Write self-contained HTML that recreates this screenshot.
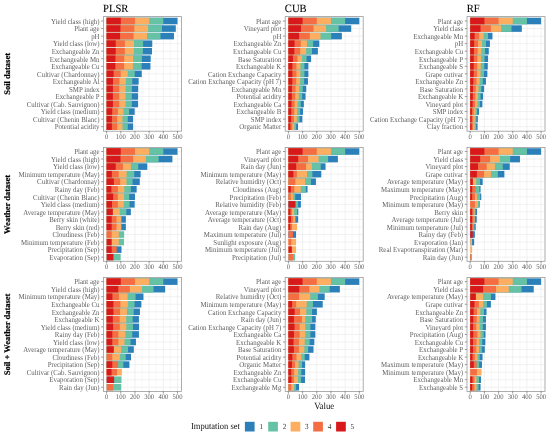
<!DOCTYPE html>
<html><head><meta charset="utf-8"><style>
html,body{margin:0;padding:0;background:#fff;width:550px;height:435px;overflow:hidden}
svg{display:block;filter:blur(0.2px)}
text{font-family:"Liberation Serif",serif;text-rendering:geometricPrecision}
.ax{font-size:6.88px;fill:#5e5e5e}
.tk{font-size:6.6px;fill:#5e5e5e}
.ti{font-size:10.6px;fill:#000;stroke:#000;stroke-width:0.08px}
.rl{font-size:8.5px;font-weight:bold;fill:#000;stroke:#000;stroke-width:0.2px}
.vl{font-size:8.8px;fill:#111}
.lg{font-size:8.5px;fill:#111}
.lk{font-size:7.2px;fill:#333}
</style></head><body>
<svg width="550" height="435" viewBox="0 0 550 435">
<rect width="550" height="435" fill="#fff"/>
<line x1="113.69" y1="16.6" x2="113.69" y2="131.2" stroke="#ebebeb" stroke-width="0.35"/>
<line x1="127.87" y1="16.6" x2="127.87" y2="131.2" stroke="#ebebeb" stroke-width="0.35"/>
<line x1="142.05" y1="16.6" x2="142.05" y2="131.2" stroke="#ebebeb" stroke-width="0.35"/>
<line x1="156.23" y1="16.6" x2="156.23" y2="131.2" stroke="#ebebeb" stroke-width="0.35"/>
<line x1="170.41" y1="16.6" x2="170.41" y2="131.2" stroke="#ebebeb" stroke-width="0.35"/>
<line x1="106.6" y1="16.6" x2="106.6" y2="131.2" stroke="#ebebeb" stroke-width="0.7"/>
<line x1="120.78" y1="16.6" x2="120.78" y2="131.2" stroke="#ebebeb" stroke-width="0.7"/>
<line x1="134.96" y1="16.6" x2="134.96" y2="131.2" stroke="#ebebeb" stroke-width="0.7"/>
<line x1="149.14" y1="16.6" x2="149.14" y2="131.2" stroke="#ebebeb" stroke-width="0.7"/>
<line x1="163.32" y1="16.6" x2="163.32" y2="131.2" stroke="#ebebeb" stroke-width="0.7"/>
<line x1="177.5" y1="16.6" x2="177.5" y2="131.2" stroke="#ebebeb" stroke-width="0.7"/>
<line x1="103.05" y1="21.03" x2="181.06" y2="21.03" stroke="#ebebeb" stroke-width="0.7"/>
<line x1="103.05" y1="28.57" x2="181.06" y2="28.57" stroke="#ebebeb" stroke-width="0.7"/>
<line x1="103.05" y1="36.12" x2="181.06" y2="36.12" stroke="#ebebeb" stroke-width="0.7"/>
<line x1="103.05" y1="43.66" x2="181.06" y2="43.66" stroke="#ebebeb" stroke-width="0.7"/>
<line x1="103.05" y1="51.21" x2="181.06" y2="51.21" stroke="#ebebeb" stroke-width="0.7"/>
<line x1="103.05" y1="58.75" x2="181.06" y2="58.75" stroke="#ebebeb" stroke-width="0.7"/>
<line x1="103.05" y1="66.3" x2="181.06" y2="66.3" stroke="#ebebeb" stroke-width="0.7"/>
<line x1="103.05" y1="73.84" x2="181.06" y2="73.84" stroke="#ebebeb" stroke-width="0.7"/>
<line x1="103.05" y1="81.39" x2="181.06" y2="81.39" stroke="#ebebeb" stroke-width="0.7"/>
<line x1="103.05" y1="88.93" x2="181.06" y2="88.93" stroke="#ebebeb" stroke-width="0.7"/>
<line x1="103.05" y1="96.48" x2="181.06" y2="96.48" stroke="#ebebeb" stroke-width="0.7"/>
<line x1="103.05" y1="104.02" x2="181.06" y2="104.02" stroke="#ebebeb" stroke-width="0.7"/>
<line x1="103.05" y1="111.57" x2="181.06" y2="111.57" stroke="#ebebeb" stroke-width="0.7"/>
<line x1="103.05" y1="119.11" x2="181.06" y2="119.11" stroke="#ebebeb" stroke-width="0.7"/>
<line x1="103.05" y1="126.66" x2="181.06" y2="126.66" stroke="#ebebeb" stroke-width="0.7"/>
<rect x="106.6" y="17.74" width="70.9" height="6.56" fill="#2c80ba"/>
<rect x="106.6" y="17.74" width="56.72" height="6.56" fill="#66c2a5"/>
<rect x="106.6" y="17.74" width="42.54" height="6.56" fill="#fdae61"/>
<rect x="106.6" y="17.74" width="28.36" height="6.56" fill="#f46d43"/>
<rect x="106.6" y="17.74" width="14.18" height="6.56" fill="#d7191c"/>
<line x1="101.2" y1="21.03" x2="103.4" y2="21.03" stroke="#555" stroke-width="0.6"/>
<text transform="translate(99.55,23.78) scale(1,1.12)" text-anchor="end" class="ax">Yield class (high)</text>
<rect x="106.6" y="25.29" width="69.2" height="6.56" fill="#2c80ba"/>
<rect x="106.6" y="25.29" width="55.36" height="6.56" fill="#66c2a5"/>
<rect x="106.6" y="25.29" width="41.52" height="6.56" fill="#fdae61"/>
<rect x="106.6" y="25.29" width="27.68" height="6.56" fill="#f46d43"/>
<rect x="106.6" y="25.29" width="13.84" height="6.56" fill="#d7191c"/>
<line x1="101.2" y1="28.57" x2="103.4" y2="28.57" stroke="#555" stroke-width="0.6"/>
<text transform="translate(99.55,31.32) scale(1,1.12)" text-anchor="end" class="ax">Plant age</text>
<rect x="106.6" y="32.83" width="67.36" height="6.56" fill="#2c80ba"/>
<rect x="106.6" y="32.83" width="53.88" height="6.56" fill="#66c2a5"/>
<rect x="106.6" y="32.83" width="40.41" height="6.56" fill="#fdae61"/>
<rect x="106.6" y="32.83" width="26.94" height="6.56" fill="#f46d43"/>
<rect x="106.6" y="32.83" width="13.47" height="6.56" fill="#d7191c"/>
<line x1="101.2" y1="36.12" x2="103.4" y2="36.12" stroke="#555" stroke-width="0.6"/>
<text transform="translate(99.55,38.87) scale(1,1.12)" text-anchor="end" class="ax">pH</text>
<rect x="106.6" y="40.38" width="45.66" height="6.56" fill="#2c80ba"/>
<rect x="106.6" y="40.38" width="36.53" height="6.56" fill="#66c2a5"/>
<rect x="106.6" y="40.38" width="27.4" height="6.56" fill="#fdae61"/>
<rect x="106.6" y="40.38" width="18.26" height="6.56" fill="#f46d43"/>
<rect x="106.6" y="40.38" width="9.13" height="6.56" fill="#d7191c"/>
<line x1="101.2" y1="43.66" x2="103.4" y2="43.66" stroke="#555" stroke-width="0.6"/>
<text transform="translate(99.55,46.41) scale(1,1.12)" text-anchor="end" class="ax">Yield class (low)</text>
<rect x="106.6" y="47.92" width="45.38" height="6.56" fill="#2c80ba"/>
<rect x="106.6" y="47.92" width="36.3" height="6.56" fill="#66c2a5"/>
<rect x="106.6" y="47.92" width="27.23" height="6.56" fill="#fdae61"/>
<rect x="106.6" y="47.92" width="18.15" height="6.56" fill="#f46d43"/>
<rect x="106.6" y="47.92" width="9.08" height="6.56" fill="#d7191c"/>
<line x1="101.2" y1="51.21" x2="103.4" y2="51.21" stroke="#555" stroke-width="0.6"/>
<text transform="translate(99.55,53.96) scale(1,1.12)" text-anchor="end" class="ax">Exchangeable Zn</text>
<rect x="106.6" y="55.47" width="44.1" height="6.56" fill="#2c80ba"/>
<rect x="106.6" y="55.47" width="35.28" height="6.56" fill="#66c2a5"/>
<rect x="106.6" y="55.47" width="26.46" height="6.56" fill="#fdae61"/>
<rect x="106.6" y="55.47" width="17.64" height="6.56" fill="#f46d43"/>
<rect x="106.6" y="55.47" width="8.82" height="6.56" fill="#d7191c"/>
<line x1="101.2" y1="58.75" x2="103.4" y2="58.75" stroke="#555" stroke-width="0.6"/>
<text transform="translate(99.55,61.5) scale(1,1.12)" text-anchor="end" class="ax">Exchangeable Mn</text>
<rect x="106.6" y="63.01" width="43.82" height="6.56" fill="#2c80ba"/>
<rect x="106.6" y="63.01" width="35.05" height="6.56" fill="#66c2a5"/>
<rect x="106.6" y="63.01" width="26.29" height="6.56" fill="#fdae61"/>
<rect x="106.6" y="63.01" width="17.53" height="6.56" fill="#f46d43"/>
<rect x="106.6" y="63.01" width="8.76" height="6.56" fill="#d7191c"/>
<line x1="101.2" y1="66.3" x2="103.4" y2="66.3" stroke="#555" stroke-width="0.6"/>
<text transform="translate(99.55,69.05) scale(1,1.12)" text-anchor="end" class="ax">Exchangeable Cu</text>
<rect x="106.6" y="70.56" width="35.17" height="6.56" fill="#2c80ba"/>
<rect x="106.6" y="70.56" width="28.13" height="6.56" fill="#66c2a5"/>
<rect x="106.6" y="70.56" width="21.1" height="6.56" fill="#fdae61"/>
<rect x="106.6" y="70.56" width="14.07" height="6.56" fill="#f46d43"/>
<rect x="106.6" y="70.56" width="7.03" height="6.56" fill="#d7191c"/>
<line x1="101.2" y1="73.84" x2="103.4" y2="73.84" stroke="#555" stroke-width="0.6"/>
<text transform="translate(99.55,76.59) scale(1,1.12)" text-anchor="end" class="ax">Cultivar (Chardonnay)</text>
<rect x="106.6" y="78.1" width="32.05" height="6.56" fill="#2c80ba"/>
<rect x="106.6" y="78.1" width="25.64" height="6.56" fill="#66c2a5"/>
<rect x="106.6" y="78.1" width="19.23" height="6.56" fill="#fdae61"/>
<rect x="106.6" y="78.1" width="12.82" height="6.56" fill="#f46d43"/>
<rect x="106.6" y="78.1" width="6.41" height="6.56" fill="#d7191c"/>
<line x1="101.2" y1="81.39" x2="103.4" y2="81.39" stroke="#555" stroke-width="0.6"/>
<text transform="translate(99.55,84.14) scale(1,1.12)" text-anchor="end" class="ax">Exchangeable Al</text>
<rect x="106.6" y="85.65" width="31.62" height="6.56" fill="#2c80ba"/>
<rect x="106.6" y="85.65" width="25.3" height="6.56" fill="#66c2a5"/>
<rect x="106.6" y="85.65" width="18.97" height="6.56" fill="#fdae61"/>
<rect x="106.6" y="85.65" width="12.65" height="6.56" fill="#f46d43"/>
<rect x="106.6" y="85.65" width="6.32" height="6.56" fill="#d7191c"/>
<line x1="101.2" y1="88.93" x2="103.4" y2="88.93" stroke="#555" stroke-width="0.6"/>
<text transform="translate(99.55,91.68) scale(1,1.12)" text-anchor="end" class="ax">SMP index</text>
<rect x="106.6" y="93.19" width="31.48" height="6.56" fill="#2c80ba"/>
<rect x="106.6" y="93.19" width="25.18" height="6.56" fill="#66c2a5"/>
<rect x="106.6" y="93.19" width="18.89" height="6.56" fill="#fdae61"/>
<rect x="106.6" y="93.19" width="12.59" height="6.56" fill="#f46d43"/>
<rect x="106.6" y="93.19" width="6.3" height="6.56" fill="#d7191c"/>
<line x1="101.2" y1="96.48" x2="103.4" y2="96.48" stroke="#555" stroke-width="0.6"/>
<text transform="translate(99.55,99.23) scale(1,1.12)" text-anchor="end" class="ax">Exchangeable P</text>
<rect x="106.6" y="100.74" width="31.48" height="6.56" fill="#2c80ba"/>
<rect x="106.6" y="100.74" width="25.18" height="6.56" fill="#66c2a5"/>
<rect x="106.6" y="100.74" width="18.89" height="6.56" fill="#fdae61"/>
<rect x="106.6" y="100.74" width="12.59" height="6.56" fill="#f46d43"/>
<rect x="106.6" y="100.74" width="6.3" height="6.56" fill="#d7191c"/>
<line x1="101.2" y1="104.02" x2="103.4" y2="104.02" stroke="#555" stroke-width="0.6"/>
<text transform="translate(99.55,106.77) scale(1,1.12)" text-anchor="end" class="ax">Cultivar (Cab. Sauvignon)</text>
<rect x="106.6" y="108.28" width="28.08" height="6.56" fill="#2c80ba"/>
<rect x="106.6" y="108.28" width="22.46" height="6.56" fill="#66c2a5"/>
<rect x="106.6" y="108.28" width="16.85" height="6.56" fill="#fdae61"/>
<rect x="106.6" y="108.28" width="11.23" height="6.56" fill="#f46d43"/>
<rect x="106.6" y="108.28" width="5.62" height="6.56" fill="#d7191c"/>
<line x1="101.2" y1="111.57" x2="103.4" y2="111.57" stroke="#555" stroke-width="0.6"/>
<text transform="translate(99.55,114.32) scale(1,1.12)" text-anchor="end" class="ax">Yield class (medium)</text>
<rect x="106.6" y="115.83" width="26.52" height="6.56" fill="#2c80ba"/>
<rect x="106.6" y="115.83" width="21.21" height="6.56" fill="#66c2a5"/>
<rect x="106.6" y="115.83" width="15.91" height="6.56" fill="#fdae61"/>
<rect x="106.6" y="115.83" width="10.61" height="6.56" fill="#f46d43"/>
<rect x="106.6" y="115.83" width="5.3" height="6.56" fill="#d7191c"/>
<line x1="101.2" y1="119.11" x2="103.4" y2="119.11" stroke="#555" stroke-width="0.6"/>
<text transform="translate(99.55,121.86) scale(1,1.12)" text-anchor="end" class="ax">Cultivar (Chenin Blanc)</text>
<rect x="106.6" y="123.37" width="26.52" height="6.56" fill="#2c80ba"/>
<rect x="106.6" y="123.37" width="21.21" height="6.56" fill="#66c2a5"/>
<rect x="106.6" y="123.37" width="15.91" height="6.56" fill="#fdae61"/>
<rect x="106.6" y="123.37" width="10.61" height="6.56" fill="#f46d43"/>
<rect x="106.6" y="123.37" width="5.3" height="6.56" fill="#d7191c"/>
<line x1="101.2" y1="126.66" x2="103.4" y2="126.66" stroke="#555" stroke-width="0.6"/>
<text transform="translate(99.55,129.41) scale(1,1.12)" text-anchor="end" class="ax">Potential acidity</text>
<rect x="103.4" y="16.6" width="78" height="114.6" fill="none" stroke="#9a9a9a" stroke-width="0.8"/>
<line x1="106.6" y1="131.2" x2="106.6" y2="133.4" stroke="#555" stroke-width="0.6"/>
<text transform="translate(106.6,138.5) scale(1,1.08)" text-anchor="middle" class="tk">0</text>
<line x1="120.78" y1="131.2" x2="120.78" y2="133.4" stroke="#555" stroke-width="0.6"/>
<text transform="translate(120.78,138.5) scale(1,1.08)" text-anchor="middle" class="tk">100</text>
<line x1="134.96" y1="131.2" x2="134.96" y2="133.4" stroke="#555" stroke-width="0.6"/>
<text transform="translate(134.96,138.5) scale(1,1.08)" text-anchor="middle" class="tk">200</text>
<line x1="149.14" y1="131.2" x2="149.14" y2="133.4" stroke="#555" stroke-width="0.6"/>
<text transform="translate(149.14,138.5) scale(1,1.08)" text-anchor="middle" class="tk">300</text>
<line x1="163.32" y1="131.2" x2="163.32" y2="133.4" stroke="#555" stroke-width="0.6"/>
<text transform="translate(163.32,138.5) scale(1,1.08)" text-anchor="middle" class="tk">400</text>
<line x1="177.5" y1="131.2" x2="177.5" y2="133.4" stroke="#555" stroke-width="0.6"/>
<text transform="translate(177.5,138.5) scale(1,1.08)" text-anchor="middle" class="tk">500</text>
<line x1="295.49" y1="16.6" x2="295.49" y2="131.2" stroke="#ebebeb" stroke-width="0.35"/>
<line x1="309.67" y1="16.6" x2="309.67" y2="131.2" stroke="#ebebeb" stroke-width="0.35"/>
<line x1="323.85" y1="16.6" x2="323.85" y2="131.2" stroke="#ebebeb" stroke-width="0.35"/>
<line x1="338.03" y1="16.6" x2="338.03" y2="131.2" stroke="#ebebeb" stroke-width="0.35"/>
<line x1="352.21" y1="16.6" x2="352.21" y2="131.2" stroke="#ebebeb" stroke-width="0.35"/>
<line x1="288.4" y1="16.6" x2="288.4" y2="131.2" stroke="#ebebeb" stroke-width="0.7"/>
<line x1="302.58" y1="16.6" x2="302.58" y2="131.2" stroke="#ebebeb" stroke-width="0.7"/>
<line x1="316.76" y1="16.6" x2="316.76" y2="131.2" stroke="#ebebeb" stroke-width="0.7"/>
<line x1="330.94" y1="16.6" x2="330.94" y2="131.2" stroke="#ebebeb" stroke-width="0.7"/>
<line x1="345.12" y1="16.6" x2="345.12" y2="131.2" stroke="#ebebeb" stroke-width="0.7"/>
<line x1="359.3" y1="16.6" x2="359.3" y2="131.2" stroke="#ebebeb" stroke-width="0.7"/>
<line x1="284.85" y1="21.03" x2="362.85" y2="21.03" stroke="#ebebeb" stroke-width="0.7"/>
<line x1="284.85" y1="28.57" x2="362.85" y2="28.57" stroke="#ebebeb" stroke-width="0.7"/>
<line x1="284.85" y1="36.12" x2="362.85" y2="36.12" stroke="#ebebeb" stroke-width="0.7"/>
<line x1="284.85" y1="43.66" x2="362.85" y2="43.66" stroke="#ebebeb" stroke-width="0.7"/>
<line x1="284.85" y1="51.21" x2="362.85" y2="51.21" stroke="#ebebeb" stroke-width="0.7"/>
<line x1="284.85" y1="58.75" x2="362.85" y2="58.75" stroke="#ebebeb" stroke-width="0.7"/>
<line x1="284.85" y1="66.3" x2="362.85" y2="66.3" stroke="#ebebeb" stroke-width="0.7"/>
<line x1="284.85" y1="73.84" x2="362.85" y2="73.84" stroke="#ebebeb" stroke-width="0.7"/>
<line x1="284.85" y1="81.39" x2="362.85" y2="81.39" stroke="#ebebeb" stroke-width="0.7"/>
<line x1="284.85" y1="88.93" x2="362.85" y2="88.93" stroke="#ebebeb" stroke-width="0.7"/>
<line x1="284.85" y1="96.48" x2="362.85" y2="96.48" stroke="#ebebeb" stroke-width="0.7"/>
<line x1="284.85" y1="104.02" x2="362.85" y2="104.02" stroke="#ebebeb" stroke-width="0.7"/>
<line x1="284.85" y1="111.57" x2="362.85" y2="111.57" stroke="#ebebeb" stroke-width="0.7"/>
<line x1="284.85" y1="119.11" x2="362.85" y2="119.11" stroke="#ebebeb" stroke-width="0.7"/>
<line x1="284.85" y1="126.66" x2="362.85" y2="126.66" stroke="#ebebeb" stroke-width="0.7"/>
<rect x="288.4" y="17.74" width="70.9" height="6.56" fill="#2c80ba"/>
<rect x="288.4" y="17.74" width="56.72" height="6.56" fill="#66c2a5"/>
<rect x="288.4" y="17.74" width="42.54" height="6.56" fill="#fdae61"/>
<rect x="288.4" y="17.74" width="28.36" height="6.56" fill="#f46d43"/>
<rect x="288.4" y="17.74" width="14.18" height="6.56" fill="#d7191c"/>
<line x1="283" y1="21.03" x2="285.2" y2="21.03" stroke="#555" stroke-width="0.6"/>
<text transform="translate(281.35,23.78) scale(1,1.12)" text-anchor="end" class="ax">Plant age</text>
<rect x="288.4" y="25.29" width="62.82" height="6.56" fill="#2c80ba"/>
<rect x="288.4" y="25.29" width="50.25" height="6.56" fill="#66c2a5"/>
<rect x="288.4" y="25.29" width="37.69" height="6.56" fill="#fdae61"/>
<rect x="288.4" y="25.29" width="25.13" height="6.56" fill="#f46d43"/>
<rect x="288.4" y="25.29" width="12.56" height="6.56" fill="#d7191c"/>
<line x1="283" y1="28.57" x2="285.2" y2="28.57" stroke="#555" stroke-width="0.6"/>
<text transform="translate(281.35,31.32) scale(1,1.12)" text-anchor="end" class="ax">Vineyard plot</text>
<rect x="288.4" y="32.83" width="53.46" height="6.56" fill="#2c80ba"/>
<rect x="288.4" y="32.83" width="42.77" height="6.56" fill="#66c2a5"/>
<rect x="288.4" y="32.83" width="32.08" height="6.56" fill="#fdae61"/>
<rect x="288.4" y="32.83" width="21.38" height="6.56" fill="#f46d43"/>
<rect x="288.4" y="32.83" width="10.69" height="6.56" fill="#d7191c"/>
<line x1="283" y1="36.12" x2="285.2" y2="36.12" stroke="#555" stroke-width="0.6"/>
<text transform="translate(281.35,38.87) scale(1,1.12)" text-anchor="end" class="ax">pH</text>
<rect x="288.4" y="40.38" width="30.91" height="6.56" fill="#2c80ba"/>
<rect x="288.4" y="40.38" width="24.73" height="6.56" fill="#66c2a5"/>
<rect x="288.4" y="40.38" width="18.55" height="6.56" fill="#fdae61"/>
<rect x="288.4" y="40.38" width="12.36" height="6.56" fill="#f46d43"/>
<rect x="288.4" y="40.38" width="6.18" height="6.56" fill="#d7191c"/>
<line x1="283" y1="43.66" x2="285.2" y2="43.66" stroke="#555" stroke-width="0.6"/>
<text transform="translate(281.35,46.41) scale(1,1.12)" text-anchor="end" class="ax">Exchangeable Zn</text>
<rect x="288.4" y="47.92" width="29.49" height="6.56" fill="#2c80ba"/>
<rect x="288.4" y="47.92" width="23.6" height="6.56" fill="#66c2a5"/>
<rect x="288.4" y="47.92" width="17.7" height="6.56" fill="#fdae61"/>
<rect x="288.4" y="47.92" width="11.8" height="6.56" fill="#f46d43"/>
<rect x="288.4" y="47.92" width="5.9" height="6.56" fill="#d7191c"/>
<line x1="283" y1="51.21" x2="285.2" y2="51.21" stroke="#555" stroke-width="0.6"/>
<text transform="translate(281.35,53.96) scale(1,1.12)" text-anchor="end" class="ax">Exchangeable Cu</text>
<rect x="288.4" y="55.47" width="22.69" height="6.56" fill="#2c80ba"/>
<rect x="288.4" y="55.47" width="18.15" height="6.56" fill="#66c2a5"/>
<rect x="288.4" y="55.47" width="13.61" height="6.56" fill="#fdae61"/>
<rect x="288.4" y="55.47" width="9.08" height="6.56" fill="#f46d43"/>
<rect x="288.4" y="55.47" width="4.54" height="6.56" fill="#d7191c"/>
<line x1="283" y1="58.75" x2="285.2" y2="58.75" stroke="#555" stroke-width="0.6"/>
<text transform="translate(281.35,61.5) scale(1,1.12)" text-anchor="end" class="ax">Base Saturation</text>
<rect x="288.4" y="63.01" width="19.99" height="6.56" fill="#2c80ba"/>
<rect x="288.4" y="63.01" width="16" height="6.56" fill="#66c2a5"/>
<rect x="288.4" y="63.01" width="12" height="6.56" fill="#fdae61"/>
<rect x="288.4" y="63.01" width="8" height="6.56" fill="#f46d43"/>
<rect x="288.4" y="63.01" width="4" height="6.56" fill="#d7191c"/>
<line x1="283" y1="66.3" x2="285.2" y2="66.3" stroke="#555" stroke-width="0.6"/>
<text transform="translate(281.35,69.05) scale(1,1.12)" text-anchor="end" class="ax">Exchangeable K</text>
<rect x="288.4" y="70.56" width="19.99" height="6.56" fill="#2c80ba"/>
<rect x="288.4" y="70.56" width="16" height="6.56" fill="#66c2a5"/>
<rect x="288.4" y="70.56" width="12" height="6.56" fill="#fdae61"/>
<rect x="288.4" y="70.56" width="8" height="6.56" fill="#f46d43"/>
<rect x="288.4" y="70.56" width="4" height="6.56" fill="#d7191c"/>
<line x1="283" y1="73.84" x2="285.2" y2="73.84" stroke="#555" stroke-width="0.6"/>
<text transform="translate(281.35,76.59) scale(1,1.12)" text-anchor="end" class="ax">Cation Exchange Capacity</text>
<rect x="288.4" y="78.1" width="19.57" height="6.56" fill="#2c80ba"/>
<rect x="288.4" y="78.1" width="15.65" height="6.56" fill="#66c2a5"/>
<rect x="288.4" y="78.1" width="11.74" height="6.56" fill="#fdae61"/>
<rect x="288.4" y="78.1" width="7.83" height="6.56" fill="#f46d43"/>
<rect x="288.4" y="78.1" width="3.91" height="6.56" fill="#d7191c"/>
<line x1="283" y1="81.39" x2="285.2" y2="81.39" stroke="#555" stroke-width="0.6"/>
<text transform="translate(281.35,84.14) scale(1,1.12)" text-anchor="end" class="ax">Cation Exchange Capacity (pH 7)</text>
<rect x="288.4" y="85.65" width="17.87" height="6.56" fill="#2c80ba"/>
<rect x="288.4" y="85.65" width="14.29" height="6.56" fill="#66c2a5"/>
<rect x="288.4" y="85.65" width="10.72" height="6.56" fill="#fdae61"/>
<rect x="288.4" y="85.65" width="7.15" height="6.56" fill="#f46d43"/>
<rect x="288.4" y="85.65" width="3.57" height="6.56" fill="#d7191c"/>
<line x1="283" y1="88.93" x2="285.2" y2="88.93" stroke="#555" stroke-width="0.6"/>
<text transform="translate(281.35,91.68) scale(1,1.12)" text-anchor="end" class="ax">Exchangeable Mn</text>
<rect x="288.4" y="93.19" width="17.16" height="6.56" fill="#2c80ba"/>
<rect x="288.4" y="93.19" width="13.73" height="6.56" fill="#66c2a5"/>
<rect x="288.4" y="93.19" width="10.29" height="6.56" fill="#fdae61"/>
<rect x="288.4" y="93.19" width="6.86" height="6.56" fill="#f46d43"/>
<rect x="288.4" y="93.19" width="3.43" height="6.56" fill="#d7191c"/>
<line x1="283" y1="96.48" x2="285.2" y2="96.48" stroke="#555" stroke-width="0.6"/>
<text transform="translate(281.35,99.23) scale(1,1.12)" text-anchor="end" class="ax">Potential acidity</text>
<rect x="288.4" y="100.74" width="15.46" height="6.56" fill="#2c80ba"/>
<rect x="288.4" y="100.74" width="12.36" height="6.56" fill="#66c2a5"/>
<rect x="288.4" y="100.74" width="9.27" height="6.56" fill="#fdae61"/>
<rect x="288.4" y="100.74" width="6.18" height="6.56" fill="#f46d43"/>
<rect x="288.4" y="100.74" width="3.09" height="6.56" fill="#d7191c"/>
<line x1="283" y1="104.02" x2="285.2" y2="104.02" stroke="#555" stroke-width="0.6"/>
<text transform="translate(281.35,106.77) scale(1,1.12)" text-anchor="end" class="ax">Exchangeable Ca</text>
<rect x="288.4" y="108.28" width="14.61" height="6.56" fill="#2c80ba"/>
<rect x="288.4" y="108.28" width="11.68" height="6.56" fill="#66c2a5"/>
<rect x="288.4" y="108.28" width="8.76" height="6.56" fill="#fdae61"/>
<rect x="288.4" y="108.28" width="5.84" height="6.56" fill="#f46d43"/>
<rect x="288.4" y="108.28" width="2.92" height="6.56" fill="#d7191c"/>
<line x1="283" y1="111.57" x2="285.2" y2="111.57" stroke="#555" stroke-width="0.6"/>
<text transform="translate(281.35,114.32) scale(1,1.12)" text-anchor="end" class="ax">Exchangeable B</text>
<rect x="288.4" y="115.83" width="13.9" height="6.56" fill="#2c80ba"/>
<rect x="288.4" y="115.83" width="11.12" height="6.56" fill="#66c2a5"/>
<rect x="288.4" y="115.83" width="8.34" height="6.56" fill="#fdae61"/>
<rect x="288.4" y="115.83" width="5.56" height="6.56" fill="#f46d43"/>
<rect x="288.4" y="115.83" width="2.78" height="6.56" fill="#d7191c"/>
<line x1="283" y1="119.11" x2="285.2" y2="119.11" stroke="#555" stroke-width="0.6"/>
<text transform="translate(281.35,121.86) scale(1,1.12)" text-anchor="end" class="ax">SMP index</text>
<rect x="288.4" y="123.37" width="9.64" height="6.56" fill="#2c80ba"/>
<rect x="288.4" y="123.37" width="7.71" height="6.56" fill="#66c2a5"/>
<rect x="288.4" y="123.37" width="5.79" height="6.56" fill="#fdae61"/>
<rect x="288.4" y="123.37" width="3.86" height="6.56" fill="#f46d43"/>
<rect x="288.4" y="123.37" width="1.93" height="6.56" fill="#d7191c"/>
<line x1="283" y1="126.66" x2="285.2" y2="126.66" stroke="#555" stroke-width="0.6"/>
<text transform="translate(281.35,129.41) scale(1,1.12)" text-anchor="end" class="ax">Organic Matter</text>
<rect x="285.2" y="16.6" width="78" height="114.6" fill="none" stroke="#9a9a9a" stroke-width="0.8"/>
<line x1="288.4" y1="131.2" x2="288.4" y2="133.4" stroke="#555" stroke-width="0.6"/>
<text transform="translate(288.4,138.5) scale(1,1.08)" text-anchor="middle" class="tk">0</text>
<line x1="302.58" y1="131.2" x2="302.58" y2="133.4" stroke="#555" stroke-width="0.6"/>
<text transform="translate(302.58,138.5) scale(1,1.08)" text-anchor="middle" class="tk">100</text>
<line x1="316.76" y1="131.2" x2="316.76" y2="133.4" stroke="#555" stroke-width="0.6"/>
<text transform="translate(316.76,138.5) scale(1,1.08)" text-anchor="middle" class="tk">200</text>
<line x1="330.94" y1="131.2" x2="330.94" y2="133.4" stroke="#555" stroke-width="0.6"/>
<text transform="translate(330.94,138.5) scale(1,1.08)" text-anchor="middle" class="tk">300</text>
<line x1="345.12" y1="131.2" x2="345.12" y2="133.4" stroke="#555" stroke-width="0.6"/>
<text transform="translate(345.12,138.5) scale(1,1.08)" text-anchor="middle" class="tk">400</text>
<line x1="359.3" y1="131.2" x2="359.3" y2="133.4" stroke="#555" stroke-width="0.6"/>
<text transform="translate(359.3,138.5) scale(1,1.08)" text-anchor="middle" class="tk">500</text>
<line x1="477.29" y1="16.6" x2="477.29" y2="131.2" stroke="#ebebeb" stroke-width="0.35"/>
<line x1="491.47" y1="16.6" x2="491.47" y2="131.2" stroke="#ebebeb" stroke-width="0.35"/>
<line x1="505.65" y1="16.6" x2="505.65" y2="131.2" stroke="#ebebeb" stroke-width="0.35"/>
<line x1="519.83" y1="16.6" x2="519.83" y2="131.2" stroke="#ebebeb" stroke-width="0.35"/>
<line x1="534.01" y1="16.6" x2="534.01" y2="131.2" stroke="#ebebeb" stroke-width="0.35"/>
<line x1="470.2" y1="16.6" x2="470.2" y2="131.2" stroke="#ebebeb" stroke-width="0.7"/>
<line x1="484.38" y1="16.6" x2="484.38" y2="131.2" stroke="#ebebeb" stroke-width="0.7"/>
<line x1="498.56" y1="16.6" x2="498.56" y2="131.2" stroke="#ebebeb" stroke-width="0.7"/>
<line x1="512.74" y1="16.6" x2="512.74" y2="131.2" stroke="#ebebeb" stroke-width="0.7"/>
<line x1="526.92" y1="16.6" x2="526.92" y2="131.2" stroke="#ebebeb" stroke-width="0.7"/>
<line x1="541.1" y1="16.6" x2="541.1" y2="131.2" stroke="#ebebeb" stroke-width="0.7"/>
<line x1="466.65" y1="21.03" x2="544.65" y2="21.03" stroke="#ebebeb" stroke-width="0.7"/>
<line x1="466.65" y1="28.57" x2="544.65" y2="28.57" stroke="#ebebeb" stroke-width="0.7"/>
<line x1="466.65" y1="36.12" x2="544.65" y2="36.12" stroke="#ebebeb" stroke-width="0.7"/>
<line x1="466.65" y1="43.66" x2="544.65" y2="43.66" stroke="#ebebeb" stroke-width="0.7"/>
<line x1="466.65" y1="51.21" x2="544.65" y2="51.21" stroke="#ebebeb" stroke-width="0.7"/>
<line x1="466.65" y1="58.75" x2="544.65" y2="58.75" stroke="#ebebeb" stroke-width="0.7"/>
<line x1="466.65" y1="66.3" x2="544.65" y2="66.3" stroke="#ebebeb" stroke-width="0.7"/>
<line x1="466.65" y1="73.84" x2="544.65" y2="73.84" stroke="#ebebeb" stroke-width="0.7"/>
<line x1="466.65" y1="81.39" x2="544.65" y2="81.39" stroke="#ebebeb" stroke-width="0.7"/>
<line x1="466.65" y1="88.93" x2="544.65" y2="88.93" stroke="#ebebeb" stroke-width="0.7"/>
<line x1="466.65" y1="96.48" x2="544.65" y2="96.48" stroke="#ebebeb" stroke-width="0.7"/>
<line x1="466.65" y1="104.02" x2="544.65" y2="104.02" stroke="#ebebeb" stroke-width="0.7"/>
<line x1="466.65" y1="111.57" x2="544.65" y2="111.57" stroke="#ebebeb" stroke-width="0.7"/>
<line x1="466.65" y1="119.11" x2="544.65" y2="119.11" stroke="#ebebeb" stroke-width="0.7"/>
<line x1="466.65" y1="126.66" x2="544.65" y2="126.66" stroke="#ebebeb" stroke-width="0.7"/>
<rect x="470.2" y="17.74" width="70.9" height="6.56" fill="#2c80ba"/>
<rect x="470.2" y="17.74" width="56.72" height="6.56" fill="#66c2a5"/>
<rect x="470.2" y="17.74" width="42.54" height="6.56" fill="#fdae61"/>
<rect x="470.2" y="17.74" width="28.36" height="6.56" fill="#f46d43"/>
<rect x="470.2" y="17.74" width="14.18" height="6.56" fill="#d7191c"/>
<line x1="464.81" y1="21.03" x2="467" y2="21.03" stroke="#555" stroke-width="0.6"/>
<text transform="translate(463.15,23.78) scale(1,1.12)" text-anchor="end" class="ax">Plant age</text>
<rect x="470.2" y="25.29" width="51.62" height="6.56" fill="#2c80ba"/>
<rect x="470.2" y="25.29" width="41.29" height="6.56" fill="#66c2a5"/>
<rect x="470.2" y="25.29" width="30.97" height="6.56" fill="#fdae61"/>
<rect x="470.2" y="25.29" width="20.65" height="6.56" fill="#f46d43"/>
<rect x="470.2" y="25.29" width="10.32" height="6.56" fill="#d7191c"/>
<line x1="464.81" y1="28.57" x2="467" y2="28.57" stroke="#555" stroke-width="0.6"/>
<text transform="translate(463.15,31.32) scale(1,1.12)" text-anchor="end" class="ax">Yield class</text>
<rect x="470.2" y="32.83" width="22.26" height="6.56" fill="#2c80ba"/>
<rect x="470.2" y="32.83" width="17.81" height="6.56" fill="#66c2a5"/>
<rect x="470.2" y="32.83" width="13.36" height="6.56" fill="#fdae61"/>
<rect x="470.2" y="32.83" width="8.91" height="6.56" fill="#f46d43"/>
<rect x="470.2" y="32.83" width="4.45" height="6.56" fill="#d7191c"/>
<line x1="464.81" y1="36.12" x2="467" y2="36.12" stroke="#555" stroke-width="0.6"/>
<text transform="translate(463.15,38.87) scale(1,1.12)" text-anchor="end" class="ax">Exchangeable Mn</text>
<rect x="470.2" y="40.38" width="19.71" height="6.56" fill="#2c80ba"/>
<rect x="470.2" y="40.38" width="15.77" height="6.56" fill="#66c2a5"/>
<rect x="470.2" y="40.38" width="11.83" height="6.56" fill="#fdae61"/>
<rect x="470.2" y="40.38" width="7.88" height="6.56" fill="#f46d43"/>
<rect x="470.2" y="40.38" width="3.94" height="6.56" fill="#d7191c"/>
<line x1="464.81" y1="43.66" x2="467" y2="43.66" stroke="#555" stroke-width="0.6"/>
<text transform="translate(463.15,46.41) scale(1,1.12)" text-anchor="end" class="ax">pH</text>
<rect x="470.2" y="47.92" width="18.58" height="6.56" fill="#2c80ba"/>
<rect x="470.2" y="47.92" width="14.86" height="6.56" fill="#66c2a5"/>
<rect x="470.2" y="47.92" width="11.15" height="6.56" fill="#fdae61"/>
<rect x="470.2" y="47.92" width="7.43" height="6.56" fill="#f46d43"/>
<rect x="470.2" y="47.92" width="3.72" height="6.56" fill="#d7191c"/>
<line x1="464.81" y1="51.21" x2="467" y2="51.21" stroke="#555" stroke-width="0.6"/>
<text transform="translate(463.15,53.96) scale(1,1.12)" text-anchor="end" class="ax">Exchangeable Cu</text>
<rect x="470.2" y="55.47" width="17.87" height="6.56" fill="#2c80ba"/>
<rect x="470.2" y="55.47" width="14.29" height="6.56" fill="#66c2a5"/>
<rect x="470.2" y="55.47" width="10.72" height="6.56" fill="#fdae61"/>
<rect x="470.2" y="55.47" width="7.15" height="6.56" fill="#f46d43"/>
<rect x="470.2" y="55.47" width="3.57" height="6.56" fill="#d7191c"/>
<line x1="464.81" y1="58.75" x2="467" y2="58.75" stroke="#555" stroke-width="0.6"/>
<text transform="translate(463.15,61.5) scale(1,1.12)" text-anchor="end" class="ax">Exchangeable P</text>
<rect x="470.2" y="63.01" width="17.58" height="6.56" fill="#2c80ba"/>
<rect x="470.2" y="63.01" width="14.07" height="6.56" fill="#66c2a5"/>
<rect x="470.2" y="63.01" width="10.55" height="6.56" fill="#fdae61"/>
<rect x="470.2" y="63.01" width="7.03" height="6.56" fill="#f46d43"/>
<rect x="470.2" y="63.01" width="3.52" height="6.56" fill="#d7191c"/>
<line x1="464.81" y1="66.3" x2="467" y2="66.3" stroke="#555" stroke-width="0.6"/>
<text transform="translate(463.15,69.05) scale(1,1.12)" text-anchor="end" class="ax">Exchangeable S</text>
<rect x="470.2" y="70.56" width="17.16" height="6.56" fill="#2c80ba"/>
<rect x="470.2" y="70.56" width="13.73" height="6.56" fill="#66c2a5"/>
<rect x="470.2" y="70.56" width="10.29" height="6.56" fill="#fdae61"/>
<rect x="470.2" y="70.56" width="6.86" height="6.56" fill="#f46d43"/>
<rect x="470.2" y="70.56" width="3.43" height="6.56" fill="#d7191c"/>
<line x1="464.81" y1="73.84" x2="467" y2="73.84" stroke="#555" stroke-width="0.6"/>
<text transform="translate(463.15,76.59) scale(1,1.12)" text-anchor="end" class="ax">Grape cutivar</text>
<rect x="470.2" y="78.1" width="15.74" height="6.56" fill="#2c80ba"/>
<rect x="470.2" y="78.1" width="12.59" height="6.56" fill="#66c2a5"/>
<rect x="470.2" y="78.1" width="9.44" height="6.56" fill="#fdae61"/>
<rect x="470.2" y="78.1" width="6.3" height="6.56" fill="#f46d43"/>
<rect x="470.2" y="78.1" width="3.15" height="6.56" fill="#d7191c"/>
<line x1="464.81" y1="81.39" x2="467" y2="81.39" stroke="#555" stroke-width="0.6"/>
<text transform="translate(463.15,84.14) scale(1,1.12)" text-anchor="end" class="ax">Exchangeable Zn</text>
<rect x="470.2" y="85.65" width="13.9" height="6.56" fill="#2c80ba"/>
<rect x="470.2" y="85.65" width="11.12" height="6.56" fill="#66c2a5"/>
<rect x="470.2" y="85.65" width="8.34" height="6.56" fill="#fdae61"/>
<rect x="470.2" y="85.65" width="5.56" height="6.56" fill="#f46d43"/>
<rect x="470.2" y="85.65" width="2.78" height="6.56" fill="#d7191c"/>
<line x1="464.81" y1="88.93" x2="467" y2="88.93" stroke="#555" stroke-width="0.6"/>
<text transform="translate(463.15,91.68) scale(1,1.12)" text-anchor="end" class="ax">Base Saturation</text>
<rect x="470.2" y="93.19" width="12.9" height="6.56" fill="#2c80ba"/>
<rect x="470.2" y="93.19" width="10.32" height="6.56" fill="#66c2a5"/>
<rect x="470.2" y="93.19" width="7.74" height="6.56" fill="#fdae61"/>
<rect x="470.2" y="93.19" width="5.16" height="6.56" fill="#f46d43"/>
<rect x="470.2" y="93.19" width="2.58" height="6.56" fill="#d7191c"/>
<line x1="464.81" y1="96.48" x2="467" y2="96.48" stroke="#555" stroke-width="0.6"/>
<text transform="translate(463.15,99.23) scale(1,1.12)" text-anchor="end" class="ax">Exchangeable K</text>
<rect x="470.2" y="100.74" width="12.19" height="6.56" fill="#2c80ba"/>
<rect x="470.2" y="100.74" width="9.76" height="6.56" fill="#66c2a5"/>
<rect x="470.2" y="100.74" width="7.32" height="6.56" fill="#fdae61"/>
<rect x="470.2" y="100.74" width="4.88" height="6.56" fill="#f46d43"/>
<rect x="470.2" y="100.74" width="2.44" height="6.56" fill="#d7191c"/>
<line x1="464.81" y1="104.02" x2="467" y2="104.02" stroke="#555" stroke-width="0.6"/>
<text transform="translate(463.15,106.77) scale(1,1.12)" text-anchor="end" class="ax">Vineyard plot</text>
<rect x="470.2" y="108.28" width="8.79" height="6.56" fill="#2c80ba"/>
<rect x="470.2" y="108.28" width="7.03" height="6.56" fill="#66c2a5"/>
<rect x="470.2" y="108.28" width="5.27" height="6.56" fill="#fdae61"/>
<rect x="470.2" y="108.28" width="3.52" height="6.56" fill="#f46d43"/>
<rect x="470.2" y="108.28" width="1.76" height="6.56" fill="#d7191c"/>
<line x1="464.81" y1="111.57" x2="467" y2="111.57" stroke="#555" stroke-width="0.6"/>
<text transform="translate(463.15,114.32) scale(1,1.12)" text-anchor="end" class="ax">SMP index</text>
<rect x="470.2" y="115.83" width="7.66" height="6.56" fill="#2c80ba"/>
<rect x="470.2" y="115.83" width="6.13" height="6.56" fill="#66c2a5"/>
<rect x="470.2" y="115.83" width="4.59" height="6.56" fill="#fdae61"/>
<rect x="470.2" y="115.83" width="3.06" height="6.56" fill="#f46d43"/>
<rect x="470.2" y="115.83" width="1.53" height="6.56" fill="#d7191c"/>
<line x1="464.81" y1="119.11" x2="467" y2="119.11" stroke="#555" stroke-width="0.6"/>
<text transform="translate(463.15,121.86) scale(1,1.12)" text-anchor="end" class="ax">Cation Exchange Capacity (pH 7)</text>
<rect x="470.2" y="123.37" width="7.37" height="6.56" fill="#2c80ba"/>
<rect x="470.2" y="123.37" width="5.9" height="6.56" fill="#66c2a5"/>
<rect x="470.2" y="123.37" width="4.42" height="6.56" fill="#fdae61"/>
<rect x="470.2" y="123.37" width="2.95" height="6.56" fill="#f46d43"/>
<rect x="470.2" y="123.37" width="1.47" height="6.56" fill="#d7191c"/>
<line x1="464.81" y1="126.66" x2="467" y2="126.66" stroke="#555" stroke-width="0.6"/>
<text transform="translate(463.15,129.41) scale(1,1.12)" text-anchor="end" class="ax">Clay fraction</text>
<rect x="467" y="16.6" width="78" height="114.6" fill="none" stroke="#9a9a9a" stroke-width="0.8"/>
<line x1="470.2" y1="131.2" x2="470.2" y2="133.4" stroke="#555" stroke-width="0.6"/>
<text transform="translate(470.2,138.5) scale(1,1.08)" text-anchor="middle" class="tk">0</text>
<line x1="484.38" y1="131.2" x2="484.38" y2="133.4" stroke="#555" stroke-width="0.6"/>
<text transform="translate(484.38,138.5) scale(1,1.08)" text-anchor="middle" class="tk">100</text>
<line x1="498.56" y1="131.2" x2="498.56" y2="133.4" stroke="#555" stroke-width="0.6"/>
<text transform="translate(498.56,138.5) scale(1,1.08)" text-anchor="middle" class="tk">200</text>
<line x1="512.74" y1="131.2" x2="512.74" y2="133.4" stroke="#555" stroke-width="0.6"/>
<text transform="translate(512.74,138.5) scale(1,1.08)" text-anchor="middle" class="tk">300</text>
<line x1="526.92" y1="131.2" x2="526.92" y2="133.4" stroke="#555" stroke-width="0.6"/>
<text transform="translate(526.92,138.5) scale(1,1.08)" text-anchor="middle" class="tk">400</text>
<line x1="541.1" y1="131.2" x2="541.1" y2="133.4" stroke="#555" stroke-width="0.6"/>
<text transform="translate(541.1,138.5) scale(1,1.08)" text-anchor="middle" class="tk">500</text>
<line x1="113.69" y1="147.45" x2="113.69" y2="261.3" stroke="#ebebeb" stroke-width="0.35"/>
<line x1="127.87" y1="147.45" x2="127.87" y2="261.3" stroke="#ebebeb" stroke-width="0.35"/>
<line x1="142.05" y1="147.45" x2="142.05" y2="261.3" stroke="#ebebeb" stroke-width="0.35"/>
<line x1="156.23" y1="147.45" x2="156.23" y2="261.3" stroke="#ebebeb" stroke-width="0.35"/>
<line x1="170.41" y1="147.45" x2="170.41" y2="261.3" stroke="#ebebeb" stroke-width="0.35"/>
<line x1="106.6" y1="147.45" x2="106.6" y2="261.3" stroke="#ebebeb" stroke-width="0.7"/>
<line x1="120.78" y1="147.45" x2="120.78" y2="261.3" stroke="#ebebeb" stroke-width="0.7"/>
<line x1="134.96" y1="147.45" x2="134.96" y2="261.3" stroke="#ebebeb" stroke-width="0.7"/>
<line x1="149.14" y1="147.45" x2="149.14" y2="261.3" stroke="#ebebeb" stroke-width="0.7"/>
<line x1="163.32" y1="147.45" x2="163.32" y2="261.3" stroke="#ebebeb" stroke-width="0.7"/>
<line x1="177.5" y1="147.45" x2="177.5" y2="261.3" stroke="#ebebeb" stroke-width="0.7"/>
<line x1="103.05" y1="151.53" x2="181.06" y2="151.53" stroke="#ebebeb" stroke-width="0.7"/>
<line x1="103.05" y1="159.07" x2="181.06" y2="159.07" stroke="#ebebeb" stroke-width="0.7"/>
<line x1="103.05" y1="166.62" x2="181.06" y2="166.62" stroke="#ebebeb" stroke-width="0.7"/>
<line x1="103.05" y1="174.16" x2="181.06" y2="174.16" stroke="#ebebeb" stroke-width="0.7"/>
<line x1="103.05" y1="181.71" x2="181.06" y2="181.71" stroke="#ebebeb" stroke-width="0.7"/>
<line x1="103.05" y1="189.25" x2="181.06" y2="189.25" stroke="#ebebeb" stroke-width="0.7"/>
<line x1="103.05" y1="196.8" x2="181.06" y2="196.8" stroke="#ebebeb" stroke-width="0.7"/>
<line x1="103.05" y1="204.34" x2="181.06" y2="204.34" stroke="#ebebeb" stroke-width="0.7"/>
<line x1="103.05" y1="211.89" x2="181.06" y2="211.89" stroke="#ebebeb" stroke-width="0.7"/>
<line x1="103.05" y1="219.43" x2="181.06" y2="219.43" stroke="#ebebeb" stroke-width="0.7"/>
<line x1="103.05" y1="226.98" x2="181.06" y2="226.98" stroke="#ebebeb" stroke-width="0.7"/>
<line x1="103.05" y1="234.52" x2="181.06" y2="234.52" stroke="#ebebeb" stroke-width="0.7"/>
<line x1="103.05" y1="242.07" x2="181.06" y2="242.07" stroke="#ebebeb" stroke-width="0.7"/>
<line x1="103.05" y1="249.61" x2="181.06" y2="249.61" stroke="#ebebeb" stroke-width="0.7"/>
<line x1="103.05" y1="257.16" x2="181.06" y2="257.16" stroke="#ebebeb" stroke-width="0.7"/>
<rect x="106.6" y="148.24" width="70.9" height="6.56" fill="#2c80ba"/>
<rect x="106.6" y="148.24" width="56.72" height="6.56" fill="#66c2a5"/>
<rect x="106.6" y="148.24" width="42.54" height="6.56" fill="#fdae61"/>
<rect x="106.6" y="148.24" width="28.36" height="6.56" fill="#f46d43"/>
<rect x="106.6" y="148.24" width="14.18" height="6.56" fill="#d7191c"/>
<line x1="101.2" y1="151.53" x2="103.4" y2="151.53" stroke="#555" stroke-width="0.6"/>
<text transform="translate(99.55,154.28) scale(1,1.12)" text-anchor="end" class="ax">Plant age</text>
<rect x="106.6" y="155.79" width="65.8" height="6.56" fill="#2c80ba"/>
<rect x="106.6" y="155.79" width="52.04" height="6.56" fill="#66c2a5"/>
<rect x="106.6" y="155.79" width="39.28" height="6.56" fill="#fdae61"/>
<rect x="106.6" y="155.79" width="26.52" height="6.56" fill="#f46d43"/>
<rect x="106.6" y="155.79" width="13.9" height="6.56" fill="#d7191c"/>
<line x1="101.2" y1="159.07" x2="103.4" y2="159.07" stroke="#555" stroke-width="0.6"/>
<text transform="translate(99.55,161.82) scale(1,1.12)" text-anchor="end" class="ax">Yield class (high)</text>
<rect x="106.6" y="163.33" width="40.7" height="6.56" fill="#2c80ba"/>
<rect x="106.6" y="163.33" width="31.62" height="6.56" fill="#66c2a5"/>
<rect x="106.6" y="163.33" width="24.25" height="6.56" fill="#fdae61"/>
<rect x="106.6" y="163.33" width="16.31" height="6.56" fill="#f46d43"/>
<rect x="106.6" y="163.33" width="9.08" height="6.56" fill="#d7191c"/>
<line x1="101.2" y1="166.62" x2="103.4" y2="166.62" stroke="#555" stroke-width="0.6"/>
<text transform="translate(99.55,169.37) scale(1,1.12)" text-anchor="end" class="ax">Yield class (low)</text>
<rect x="106.6" y="170.88" width="34.03" height="6.56" fill="#2c80ba"/>
<rect x="106.6" y="170.88" width="27.65" height="6.56" fill="#66c2a5"/>
<rect x="106.6" y="170.88" width="19.99" height="6.56" fill="#fdae61"/>
<rect x="106.6" y="170.88" width="12.05" height="6.56" fill="#f46d43"/>
<rect x="106.6" y="170.88" width="5.25" height="6.56" fill="#d7191c"/>
<line x1="101.2" y1="174.16" x2="103.4" y2="174.16" stroke="#555" stroke-width="0.6"/>
<text transform="translate(99.55,176.91) scale(1,1.12)" text-anchor="end" class="ax">Minimum temperature (May)</text>
<rect x="106.6" y="178.42" width="33.18" height="6.56" fill="#2c80ba"/>
<rect x="106.6" y="178.42" width="25.95" height="6.56" fill="#66c2a5"/>
<rect x="106.6" y="178.42" width="19.85" height="6.56" fill="#fdae61"/>
<rect x="106.6" y="178.42" width="13.61" height="6.56" fill="#f46d43"/>
<rect x="106.6" y="178.42" width="7.23" height="6.56" fill="#d7191c"/>
<line x1="101.2" y1="181.71" x2="103.4" y2="181.71" stroke="#555" stroke-width="0.6"/>
<text transform="translate(99.55,184.46) scale(1,1.12)" text-anchor="end" class="ax">Cultivar (Chardonnay)</text>
<rect x="106.6" y="185.97" width="30.06" height="6.56" fill="#2c80ba"/>
<rect x="106.6" y="185.97" width="24.25" height="6.56" fill="#66c2a5"/>
<rect x="106.6" y="185.97" width="17.73" height="6.56" fill="#fdae61"/>
<rect x="106.6" y="185.97" width="11.2" height="6.56" fill="#f46d43"/>
<rect x="106.6" y="185.97" width="4.82" height="6.56" fill="#d7191c"/>
<line x1="101.2" y1="189.25" x2="103.4" y2="189.25" stroke="#555" stroke-width="0.6"/>
<text transform="translate(99.55,192) scale(1,1.12)" text-anchor="end" class="ax">Rainy day (Feb)</text>
<rect x="106.6" y="193.51" width="28.36" height="6.56" fill="#2c80ba"/>
<rect x="106.6" y="193.51" width="22.55" height="6.56" fill="#66c2a5"/>
<rect x="106.6" y="193.51" width="17.44" height="6.56" fill="#fdae61"/>
<rect x="106.6" y="193.51" width="11.2" height="6.56" fill="#f46d43"/>
<rect x="106.6" y="193.51" width="6.52" height="6.56" fill="#d7191c"/>
<line x1="101.2" y1="196.8" x2="103.4" y2="196.8" stroke="#555" stroke-width="0.6"/>
<text transform="translate(99.55,199.55) scale(1,1.12)" text-anchor="end" class="ax">Cultivar (Chenin Blanc)</text>
<rect x="106.6" y="201.06" width="28.08" height="6.56" fill="#2c80ba"/>
<rect x="106.6" y="201.06" width="22.97" height="6.56" fill="#66c2a5"/>
<rect x="106.6" y="201.06" width="17.16" height="6.56" fill="#fdae61"/>
<rect x="106.6" y="201.06" width="11.2" height="6.56" fill="#f46d43"/>
<rect x="106.6" y="201.06" width="5.39" height="6.56" fill="#d7191c"/>
<line x1="101.2" y1="204.34" x2="103.4" y2="204.34" stroke="#555" stroke-width="0.6"/>
<text transform="translate(99.55,207.09) scale(1,1.12)" text-anchor="end" class="ax">Yield class (medium)</text>
<rect x="106.6" y="208.6" width="24.25" height="6.56" fill="#2c80ba"/>
<rect x="106.6" y="208.6" width="19.71" height="6.56" fill="#66c2a5"/>
<rect x="106.6" y="208.6" width="13.19" height="6.56" fill="#fdae61"/>
<rect x="106.6" y="208.6" width="6.24" height="6.56" fill="#d7191c"/>
<line x1="101.2" y1="211.89" x2="103.4" y2="211.89" stroke="#555" stroke-width="0.6"/>
<text transform="translate(99.55,214.64) scale(1,1.12)" text-anchor="end" class="ax">Average temperature (May)</text>
<rect x="106.6" y="216.15" width="19.28" height="6.56" fill="#2c80ba"/>
<rect x="106.6" y="216.15" width="14.75" height="6.56" fill="#fdae61"/>
<rect x="106.6" y="216.15" width="9.93" height="6.56" fill="#f46d43"/>
<rect x="106.6" y="216.15" width="5.1" height="6.56" fill="#d7191c"/>
<line x1="101.2" y1="219.43" x2="103.4" y2="219.43" stroke="#555" stroke-width="0.6"/>
<text transform="translate(99.55,222.18) scale(1,1.12)" text-anchor="end" class="ax">Berry skin (white)</text>
<rect x="106.6" y="223.69" width="19.28" height="6.56" fill="#2c80ba"/>
<rect x="106.6" y="223.69" width="14.75" height="6.56" fill="#fdae61"/>
<rect x="106.6" y="223.69" width="9.93" height="6.56" fill="#f46d43"/>
<rect x="106.6" y="223.69" width="5.1" height="6.56" fill="#d7191c"/>
<line x1="101.2" y1="226.98" x2="103.4" y2="226.98" stroke="#555" stroke-width="0.6"/>
<text transform="translate(99.55,229.73) scale(1,1.12)" text-anchor="end" class="ax">Berry skin (red)</text>
<rect x="106.6" y="231.24" width="17.58" height="6.56" fill="#66c2a5"/>
<rect x="106.6" y="231.24" width="12.19" height="6.56" fill="#fdae61"/>
<rect x="106.6" y="231.24" width="5.1" height="6.56" fill="#f46d43"/>
<line x1="101.2" y1="234.52" x2="103.4" y2="234.52" stroke="#555" stroke-width="0.6"/>
<text transform="translate(99.55,237.27) scale(1,1.12)" text-anchor="end" class="ax">Cloudiness (Feb)</text>
<rect x="106.6" y="238.78" width="17.44" height="6.56" fill="#66c2a5"/>
<rect x="106.6" y="238.78" width="12.19" height="6.56" fill="#fdae61"/>
<rect x="106.6" y="238.78" width="5.1" height="6.56" fill="#d7191c"/>
<line x1="101.2" y1="242.07" x2="103.4" y2="242.07" stroke="#555" stroke-width="0.6"/>
<text transform="translate(99.55,244.82) scale(1,1.12)" text-anchor="end" class="ax">Minimum temperature (Feb)</text>
<rect x="106.6" y="246.33" width="14.89" height="6.56" fill="#2c80ba"/>
<rect x="106.6" y="246.33" width="10.07" height="6.56" fill="#f46d43"/>
<rect x="106.6" y="246.33" width="5.1" height="6.56" fill="#d7191c"/>
<line x1="101.2" y1="249.61" x2="103.4" y2="249.61" stroke="#555" stroke-width="0.6"/>
<text transform="translate(99.55,252.36) scale(1,1.12)" text-anchor="end" class="ax">Precipitation (Sep)</text>
<rect x="106.6" y="253.87" width="14.04" height="6.56" fill="#66c2a5"/>
<rect x="106.6" y="253.87" width="6.81" height="6.56" fill="#d7191c"/>
<line x1="101.2" y1="257.16" x2="103.4" y2="257.16" stroke="#555" stroke-width="0.6"/>
<text transform="translate(99.55,259.91) scale(1,1.12)" text-anchor="end" class="ax">Evaporation (Sep)</text>
<rect x="103.4" y="147.45" width="78" height="113.85" fill="none" stroke="#9a9a9a" stroke-width="0.8"/>
<line x1="106.6" y1="261.3" x2="106.6" y2="263.5" stroke="#555" stroke-width="0.6"/>
<text transform="translate(106.6,268.9) scale(1,1.08)" text-anchor="middle" class="tk">0</text>
<line x1="120.78" y1="261.3" x2="120.78" y2="263.5" stroke="#555" stroke-width="0.6"/>
<text transform="translate(120.78,268.9) scale(1,1.08)" text-anchor="middle" class="tk">100</text>
<line x1="134.96" y1="261.3" x2="134.96" y2="263.5" stroke="#555" stroke-width="0.6"/>
<text transform="translate(134.96,268.9) scale(1,1.08)" text-anchor="middle" class="tk">200</text>
<line x1="149.14" y1="261.3" x2="149.14" y2="263.5" stroke="#555" stroke-width="0.6"/>
<text transform="translate(149.14,268.9) scale(1,1.08)" text-anchor="middle" class="tk">300</text>
<line x1="163.32" y1="261.3" x2="163.32" y2="263.5" stroke="#555" stroke-width="0.6"/>
<text transform="translate(163.32,268.9) scale(1,1.08)" text-anchor="middle" class="tk">400</text>
<line x1="177.5" y1="261.3" x2="177.5" y2="263.5" stroke="#555" stroke-width="0.6"/>
<text transform="translate(177.5,268.9) scale(1,1.08)" text-anchor="middle" class="tk">500</text>
<line x1="295.49" y1="147.45" x2="295.49" y2="261.3" stroke="#ebebeb" stroke-width="0.35"/>
<line x1="309.67" y1="147.45" x2="309.67" y2="261.3" stroke="#ebebeb" stroke-width="0.35"/>
<line x1="323.85" y1="147.45" x2="323.85" y2="261.3" stroke="#ebebeb" stroke-width="0.35"/>
<line x1="338.03" y1="147.45" x2="338.03" y2="261.3" stroke="#ebebeb" stroke-width="0.35"/>
<line x1="352.21" y1="147.45" x2="352.21" y2="261.3" stroke="#ebebeb" stroke-width="0.35"/>
<line x1="288.4" y1="147.45" x2="288.4" y2="261.3" stroke="#ebebeb" stroke-width="0.7"/>
<line x1="302.58" y1="147.45" x2="302.58" y2="261.3" stroke="#ebebeb" stroke-width="0.7"/>
<line x1="316.76" y1="147.45" x2="316.76" y2="261.3" stroke="#ebebeb" stroke-width="0.7"/>
<line x1="330.94" y1="147.45" x2="330.94" y2="261.3" stroke="#ebebeb" stroke-width="0.7"/>
<line x1="345.12" y1="147.45" x2="345.12" y2="261.3" stroke="#ebebeb" stroke-width="0.7"/>
<line x1="359.3" y1="147.45" x2="359.3" y2="261.3" stroke="#ebebeb" stroke-width="0.7"/>
<line x1="284.85" y1="151.53" x2="362.85" y2="151.53" stroke="#ebebeb" stroke-width="0.7"/>
<line x1="284.85" y1="159.07" x2="362.85" y2="159.07" stroke="#ebebeb" stroke-width="0.7"/>
<line x1="284.85" y1="166.62" x2="362.85" y2="166.62" stroke="#ebebeb" stroke-width="0.7"/>
<line x1="284.85" y1="174.16" x2="362.85" y2="174.16" stroke="#ebebeb" stroke-width="0.7"/>
<line x1="284.85" y1="181.71" x2="362.85" y2="181.71" stroke="#ebebeb" stroke-width="0.7"/>
<line x1="284.85" y1="189.25" x2="362.85" y2="189.25" stroke="#ebebeb" stroke-width="0.7"/>
<line x1="284.85" y1="196.8" x2="362.85" y2="196.8" stroke="#ebebeb" stroke-width="0.7"/>
<line x1="284.85" y1="204.34" x2="362.85" y2="204.34" stroke="#ebebeb" stroke-width="0.7"/>
<line x1="284.85" y1="211.89" x2="362.85" y2="211.89" stroke="#ebebeb" stroke-width="0.7"/>
<line x1="284.85" y1="219.43" x2="362.85" y2="219.43" stroke="#ebebeb" stroke-width="0.7"/>
<line x1="284.85" y1="226.98" x2="362.85" y2="226.98" stroke="#ebebeb" stroke-width="0.7"/>
<line x1="284.85" y1="234.52" x2="362.85" y2="234.52" stroke="#ebebeb" stroke-width="0.7"/>
<line x1="284.85" y1="242.07" x2="362.85" y2="242.07" stroke="#ebebeb" stroke-width="0.7"/>
<line x1="284.85" y1="249.61" x2="362.85" y2="249.61" stroke="#ebebeb" stroke-width="0.7"/>
<line x1="284.85" y1="257.16" x2="362.85" y2="257.16" stroke="#ebebeb" stroke-width="0.7"/>
<rect x="288.4" y="148.24" width="70.9" height="6.56" fill="#2c80ba"/>
<rect x="288.4" y="148.24" width="56.72" height="6.56" fill="#66c2a5"/>
<rect x="288.4" y="148.24" width="42.54" height="6.56" fill="#fdae61"/>
<rect x="288.4" y="148.24" width="28.36" height="6.56" fill="#f46d43"/>
<rect x="288.4" y="148.24" width="14.18" height="6.56" fill="#d7191c"/>
<line x1="283" y1="151.53" x2="285.2" y2="151.53" stroke="#555" stroke-width="0.6"/>
<text transform="translate(281.35,154.28) scale(1,1.12)" text-anchor="end" class="ax">Plant age</text>
<rect x="288.4" y="155.79" width="49.49" height="6.56" fill="#2c80ba"/>
<rect x="288.4" y="155.79" width="39.7" height="6.56" fill="#66c2a5"/>
<rect x="288.4" y="155.79" width="30.2" height="6.56" fill="#fdae61"/>
<rect x="288.4" y="155.79" width="19.57" height="6.56" fill="#f46d43"/>
<rect x="288.4" y="155.79" width="9.78" height="6.56" fill="#d7191c"/>
<line x1="283" y1="159.07" x2="285.2" y2="159.07" stroke="#555" stroke-width="0.6"/>
<text transform="translate(281.35,161.82) scale(1,1.12)" text-anchor="end" class="ax">Vineyard plot</text>
<rect x="288.4" y="163.33" width="37.15" height="6.56" fill="#2c80ba"/>
<rect x="288.4" y="163.33" width="32.33" height="6.56" fill="#66c2a5"/>
<rect x="288.4" y="163.33" width="23.54" height="6.56" fill="#fdae61"/>
<rect x="288.4" y="163.33" width="17.73" height="6.56" fill="#f46d43"/>
<rect x="288.4" y="163.33" width="7.8" height="6.56" fill="#d7191c"/>
<line x1="283" y1="166.62" x2="285.2" y2="166.62" stroke="#555" stroke-width="0.6"/>
<text transform="translate(281.35,169.37) scale(1,1.12)" text-anchor="end" class="ax">Rain day (Jun)</text>
<rect x="288.4" y="170.88" width="32.9" height="6.56" fill="#2c80ba"/>
<rect x="288.4" y="170.88" width="23.96" height="6.56" fill="#66c2a5"/>
<rect x="288.4" y="170.88" width="18.58" height="6.56" fill="#fdae61"/>
<rect x="288.4" y="170.88" width="8.51" height="6.56" fill="#f46d43"/>
<rect x="288.4" y="170.88" width="4.96" height="6.56" fill="#d7191c"/>
<line x1="283" y1="174.16" x2="285.2" y2="174.16" stroke="#555" stroke-width="0.6"/>
<text transform="translate(281.35,176.91) scale(1,1.12)" text-anchor="end" class="ax">Minimum temperature (May)</text>
<rect x="288.4" y="178.42" width="27.51" height="6.56" fill="#2c80ba"/>
<rect x="288.4" y="178.42" width="22.55" height="6.56" fill="#66c2a5"/>
<rect x="288.4" y="178.42" width="16.73" height="6.56" fill="#fdae61"/>
<rect x="288.4" y="178.42" width="6.95" height="6.56" fill="#f46d43"/>
<line x1="283" y1="181.71" x2="285.2" y2="181.71" stroke="#555" stroke-width="0.6"/>
<text transform="translate(281.35,184.46) scale(1,1.12)" text-anchor="end" class="ax">Relative humidity (Oct)</text>
<rect x="288.4" y="185.97" width="19.14" height="6.56" fill="#2c80ba"/>
<rect x="288.4" y="185.97" width="17.44" height="6.56" fill="#66c2a5"/>
<rect x="288.4" y="185.97" width="12.34" height="6.56" fill="#fdae61"/>
<rect x="288.4" y="185.97" width="5.96" height="6.56" fill="#f46d43"/>
<rect x="288.4" y="185.97" width="2.41" height="6.56" fill="#d7191c"/>
<line x1="283" y1="189.25" x2="285.2" y2="189.25" stroke="#555" stroke-width="0.6"/>
<text transform="translate(281.35,192) scale(1,1.12)" text-anchor="end" class="ax">Cloudiness (Aug)</text>
<rect x="288.4" y="193.51" width="12.62" height="6.56" fill="#2c80ba"/>
<rect x="288.4" y="193.51" width="6.81" height="6.56" fill="#66c2a5"/>
<rect x="288.4" y="193.51" width="4.68" height="6.56" fill="#fdae61"/>
<rect x="288.4" y="193.51" width="2.41" height="6.56" fill="#f46d43"/>
<line x1="283" y1="196.8" x2="285.2" y2="196.8" stroke="#555" stroke-width="0.6"/>
<text transform="translate(281.35,199.55) scale(1,1.12)" text-anchor="end" class="ax">Precipitation (Feb)</text>
<rect x="288.4" y="201.06" width="12.48" height="6.56" fill="#2c80ba"/>
<rect x="288.4" y="201.06" width="9.64" height="6.56" fill="#66c2a5"/>
<rect x="288.4" y="201.06" width="7.09" height="6.56" fill="#d7191c"/>
<line x1="283" y1="204.34" x2="285.2" y2="204.34" stroke="#555" stroke-width="0.6"/>
<text transform="translate(281.35,207.09) scale(1,1.12)" text-anchor="end" class="ax">Relative humidity (Feb)</text>
<rect x="288.4" y="208.6" width="9.93" height="6.56" fill="#2c80ba"/>
<rect x="288.4" y="208.6" width="8.79" height="6.56" fill="#66c2a5"/>
<rect x="288.4" y="208.6" width="5.67" height="6.56" fill="#fdae61"/>
<rect x="288.4" y="208.6" width="3.55" height="6.56" fill="#f46d43"/>
<rect x="288.4" y="208.6" width="1.99" height="6.56" fill="#d7191c"/>
<line x1="283" y1="211.89" x2="285.2" y2="211.89" stroke="#555" stroke-width="0.6"/>
<text transform="translate(281.35,214.64) scale(1,1.12)" text-anchor="end" class="ax">Average temperature (May)</text>
<rect x="288.4" y="216.15" width="9.78" height="6.56" fill="#2c80ba"/>
<rect x="288.4" y="216.15" width="6.95" height="6.56" fill="#fdae61"/>
<rect x="288.4" y="216.15" width="4.82" height="6.56" fill="#f46d43"/>
<rect x="288.4" y="216.15" width="2.55" height="6.56" fill="#d7191c"/>
<line x1="283" y1="219.43" x2="285.2" y2="219.43" stroke="#555" stroke-width="0.6"/>
<text transform="translate(281.35,222.18) scale(1,1.12)" text-anchor="end" class="ax">Average temperature (Oct)</text>
<rect x="288.4" y="223.69" width="8.65" height="6.56" fill="#fdae61"/>
<rect x="288.4" y="223.69" width="3.55" height="6.56" fill="#f46d43"/>
<rect x="288.4" y="223.69" width="1.84" height="6.56" fill="#d7191c"/>
<line x1="283" y1="226.98" x2="285.2" y2="226.98" stroke="#555" stroke-width="0.6"/>
<text transform="translate(281.35,229.73) scale(1,1.12)" text-anchor="end" class="ax">Rain day (Aug)</text>
<rect x="288.4" y="231.24" width="7.66" height="6.56" fill="#2c80ba"/>
<rect x="288.4" y="231.24" width="4.54" height="6.56" fill="#f46d43"/>
<line x1="283" y1="234.52" x2="285.2" y2="234.52" stroke="#555" stroke-width="0.6"/>
<text transform="translate(281.35,237.27) scale(1,1.12)" text-anchor="end" class="ax">Maximum temperature (Jul)</text>
<rect x="288.4" y="238.78" width="7.66" height="6.56" fill="#fdae61"/>
<rect x="288.4" y="238.78" width="2.84" height="6.56" fill="#f46d43"/>
<line x1="283" y1="242.07" x2="285.2" y2="242.07" stroke="#555" stroke-width="0.6"/>
<text transform="translate(281.35,244.82) scale(1,1.12)" text-anchor="end" class="ax">Sunlight exposure (Aug)</text>
<rect x="288.4" y="246.33" width="7.66" height="6.56" fill="#fdae61"/>
<rect x="288.4" y="246.33" width="3.4" height="6.56" fill="#d7191c"/>
<line x1="283" y1="249.61" x2="285.2" y2="249.61" stroke="#555" stroke-width="0.6"/>
<text transform="translate(281.35,252.36) scale(1,1.12)" text-anchor="end" class="ax">Minimum temperature (Jul)</text>
<rect x="288.4" y="253.87" width="6.66" height="6.56" fill="#66c2a5"/>
<rect x="288.4" y="253.87" width="4.82" height="6.56" fill="#f46d43"/>
<line x1="283" y1="257.16" x2="285.2" y2="257.16" stroke="#555" stroke-width="0.6"/>
<text transform="translate(281.35,259.91) scale(1,1.12)" text-anchor="end" class="ax">Precipitation (Jul)</text>
<rect x="285.2" y="147.45" width="78" height="113.85" fill="none" stroke="#9a9a9a" stroke-width="0.8"/>
<line x1="288.4" y1="261.3" x2="288.4" y2="263.5" stroke="#555" stroke-width="0.6"/>
<text transform="translate(288.4,268.9) scale(1,1.08)" text-anchor="middle" class="tk">0</text>
<line x1="302.58" y1="261.3" x2="302.58" y2="263.5" stroke="#555" stroke-width="0.6"/>
<text transform="translate(302.58,268.9) scale(1,1.08)" text-anchor="middle" class="tk">100</text>
<line x1="316.76" y1="261.3" x2="316.76" y2="263.5" stroke="#555" stroke-width="0.6"/>
<text transform="translate(316.76,268.9) scale(1,1.08)" text-anchor="middle" class="tk">200</text>
<line x1="330.94" y1="261.3" x2="330.94" y2="263.5" stroke="#555" stroke-width="0.6"/>
<text transform="translate(330.94,268.9) scale(1,1.08)" text-anchor="middle" class="tk">300</text>
<line x1="345.12" y1="261.3" x2="345.12" y2="263.5" stroke="#555" stroke-width="0.6"/>
<text transform="translate(345.12,268.9) scale(1,1.08)" text-anchor="middle" class="tk">400</text>
<line x1="359.3" y1="261.3" x2="359.3" y2="263.5" stroke="#555" stroke-width="0.6"/>
<text transform="translate(359.3,268.9) scale(1,1.08)" text-anchor="middle" class="tk">500</text>
<line x1="477.29" y1="147.45" x2="477.29" y2="261.3" stroke="#ebebeb" stroke-width="0.35"/>
<line x1="491.47" y1="147.45" x2="491.47" y2="261.3" stroke="#ebebeb" stroke-width="0.35"/>
<line x1="505.65" y1="147.45" x2="505.65" y2="261.3" stroke="#ebebeb" stroke-width="0.35"/>
<line x1="519.83" y1="147.45" x2="519.83" y2="261.3" stroke="#ebebeb" stroke-width="0.35"/>
<line x1="534.01" y1="147.45" x2="534.01" y2="261.3" stroke="#ebebeb" stroke-width="0.35"/>
<line x1="470.2" y1="147.45" x2="470.2" y2="261.3" stroke="#ebebeb" stroke-width="0.7"/>
<line x1="484.38" y1="147.45" x2="484.38" y2="261.3" stroke="#ebebeb" stroke-width="0.7"/>
<line x1="498.56" y1="147.45" x2="498.56" y2="261.3" stroke="#ebebeb" stroke-width="0.7"/>
<line x1="512.74" y1="147.45" x2="512.74" y2="261.3" stroke="#ebebeb" stroke-width="0.7"/>
<line x1="526.92" y1="147.45" x2="526.92" y2="261.3" stroke="#ebebeb" stroke-width="0.7"/>
<line x1="541.1" y1="147.45" x2="541.1" y2="261.3" stroke="#ebebeb" stroke-width="0.7"/>
<line x1="466.65" y1="151.53" x2="544.65" y2="151.53" stroke="#ebebeb" stroke-width="0.7"/>
<line x1="466.65" y1="159.07" x2="544.65" y2="159.07" stroke="#ebebeb" stroke-width="0.7"/>
<line x1="466.65" y1="166.62" x2="544.65" y2="166.62" stroke="#ebebeb" stroke-width="0.7"/>
<line x1="466.65" y1="174.16" x2="544.65" y2="174.16" stroke="#ebebeb" stroke-width="0.7"/>
<line x1="466.65" y1="181.71" x2="544.65" y2="181.71" stroke="#ebebeb" stroke-width="0.7"/>
<line x1="466.65" y1="189.25" x2="544.65" y2="189.25" stroke="#ebebeb" stroke-width="0.7"/>
<line x1="466.65" y1="196.8" x2="544.65" y2="196.8" stroke="#ebebeb" stroke-width="0.7"/>
<line x1="466.65" y1="204.34" x2="544.65" y2="204.34" stroke="#ebebeb" stroke-width="0.7"/>
<line x1="466.65" y1="211.89" x2="544.65" y2="211.89" stroke="#ebebeb" stroke-width="0.7"/>
<line x1="466.65" y1="219.43" x2="544.65" y2="219.43" stroke="#ebebeb" stroke-width="0.7"/>
<line x1="466.65" y1="226.98" x2="544.65" y2="226.98" stroke="#ebebeb" stroke-width="0.7"/>
<line x1="466.65" y1="234.52" x2="544.65" y2="234.52" stroke="#ebebeb" stroke-width="0.7"/>
<line x1="466.65" y1="242.07" x2="544.65" y2="242.07" stroke="#ebebeb" stroke-width="0.7"/>
<line x1="466.65" y1="249.61" x2="544.65" y2="249.61" stroke="#ebebeb" stroke-width="0.7"/>
<line x1="466.65" y1="257.16" x2="544.65" y2="257.16" stroke="#ebebeb" stroke-width="0.7"/>
<rect x="470.2" y="148.24" width="70.9" height="6.56" fill="#2c80ba"/>
<rect x="470.2" y="148.24" width="56.72" height="6.56" fill="#66c2a5"/>
<rect x="470.2" y="148.24" width="42.54" height="6.56" fill="#fdae61"/>
<rect x="470.2" y="148.24" width="28.36" height="6.56" fill="#f46d43"/>
<rect x="470.2" y="148.24" width="14.18" height="6.56" fill="#d7191c"/>
<line x1="464.81" y1="151.53" x2="467" y2="151.53" stroke="#555" stroke-width="0.6"/>
<text transform="translate(463.15,154.28) scale(1,1.12)" text-anchor="end" class="ax">Plant age</text>
<rect x="470.2" y="155.79" width="49.77" height="6.56" fill="#2c80ba"/>
<rect x="470.2" y="155.79" width="39.99" height="6.56" fill="#66c2a5"/>
<rect x="470.2" y="155.79" width="29.78" height="6.56" fill="#fdae61"/>
<rect x="470.2" y="155.79" width="19.85" height="6.56" fill="#f46d43"/>
<rect x="470.2" y="155.79" width="9.93" height="6.56" fill="#d7191c"/>
<line x1="464.81" y1="159.07" x2="467" y2="159.07" stroke="#555" stroke-width="0.6"/>
<text transform="translate(463.15,161.82) scale(1,1.12)" text-anchor="end" class="ax">Yield class</text>
<rect x="470.2" y="163.33" width="39.56" height="6.56" fill="#2c80ba"/>
<rect x="470.2" y="163.33" width="32.61" height="6.56" fill="#66c2a5"/>
<rect x="470.2" y="163.33" width="24.67" height="6.56" fill="#fdae61"/>
<rect x="470.2" y="163.33" width="16.45" height="6.56" fill="#f46d43"/>
<rect x="470.2" y="163.33" width="7.8" height="6.56" fill="#d7191c"/>
<line x1="464.81" y1="166.62" x2="467" y2="166.62" stroke="#555" stroke-width="0.6"/>
<text transform="translate(463.15,169.37) scale(1,1.12)" text-anchor="end" class="ax">Vineyard plot</text>
<rect x="470.2" y="170.88" width="34.17" height="6.56" fill="#2c80ba"/>
<rect x="470.2" y="170.88" width="27.65" height="6.56" fill="#66c2a5"/>
<rect x="470.2" y="170.88" width="20.7" height="6.56" fill="#fdae61"/>
<rect x="470.2" y="170.88" width="13.9" height="6.56" fill="#f46d43"/>
<rect x="470.2" y="170.88" width="6.66" height="6.56" fill="#d7191c"/>
<line x1="464.81" y1="174.16" x2="467" y2="174.16" stroke="#555" stroke-width="0.6"/>
<text transform="translate(463.15,176.91) scale(1,1.12)" text-anchor="end" class="ax">Grape cutivar</text>
<rect x="470.2" y="178.42" width="12.48" height="6.56" fill="#2c80ba"/>
<rect x="470.2" y="178.42" width="9.78" height="6.56" fill="#66c2a5"/>
<rect x="470.2" y="178.42" width="5.96" height="6.56" fill="#fdae61"/>
<rect x="470.2" y="178.42" width="2.69" height="6.56" fill="#d7191c"/>
<line x1="464.81" y1="181.71" x2="467" y2="181.71" stroke="#555" stroke-width="0.6"/>
<text transform="translate(463.15,184.46) scale(1,1.12)" text-anchor="end" class="ax">Average temperature (May)</text>
<rect x="470.2" y="185.97" width="10.35" height="6.56" fill="#2c80ba"/>
<rect x="470.2" y="185.97" width="9.22" height="6.56" fill="#66c2a5"/>
<rect x="470.2" y="185.97" width="5.39" height="6.56" fill="#f46d43"/>
<rect x="470.2" y="185.97" width="1.99" height="6.56" fill="#d7191c"/>
<line x1="464.81" y1="189.25" x2="467" y2="189.25" stroke="#555" stroke-width="0.6"/>
<text transform="translate(463.15,192) scale(1,1.12)" text-anchor="end" class="ax">Maximum temperature (May)</text>
<rect x="470.2" y="193.51" width="11.06" height="6.56" fill="#2c80ba"/>
<rect x="470.2" y="193.51" width="9.93" height="6.56" fill="#66c2a5"/>
<rect x="470.2" y="193.51" width="6.81" height="6.56" fill="#fdae61"/>
<rect x="470.2" y="193.51" width="4.82" height="6.56" fill="#f46d43"/>
<rect x="470.2" y="193.51" width="1.99" height="6.56" fill="#d7191c"/>
<line x1="464.81" y1="196.8" x2="467" y2="196.8" stroke="#555" stroke-width="0.6"/>
<text transform="translate(463.15,199.55) scale(1,1.12)" text-anchor="end" class="ax">Precipitation (Aug)</text>
<rect x="470.2" y="201.06" width="9.5" height="6.56" fill="#2c80ba"/>
<rect x="470.2" y="201.06" width="8.65" height="6.56" fill="#66c2a5"/>
<rect x="470.2" y="201.06" width="7.8" height="6.56" fill="#fdae61"/>
<rect x="470.2" y="201.06" width="4.68" height="6.56" fill="#f46d43"/>
<line x1="464.81" y1="204.34" x2="467" y2="204.34" stroke="#555" stroke-width="0.6"/>
<text transform="translate(463.15,207.09) scale(1,1.12)" text-anchor="end" class="ax">Minimum temperature (May)</text>
<rect x="470.2" y="208.6" width="6.81" height="6.56" fill="#2c80ba"/>
<rect x="470.2" y="208.6" width="5.25" height="6.56" fill="#66c2a5"/>
<rect x="470.2" y="208.6" width="4.4" height="6.56" fill="#fdae61"/>
<rect x="470.2" y="208.6" width="3.4" height="6.56" fill="#f46d43"/>
<rect x="470.2" y="208.6" width="1.99" height="6.56" fill="#d7191c"/>
<line x1="464.81" y1="211.89" x2="467" y2="211.89" stroke="#555" stroke-width="0.6"/>
<text transform="translate(463.15,214.64) scale(1,1.12)" text-anchor="end" class="ax">Berry skin</text>
<rect x="470.2" y="216.15" width="6.52" height="6.56" fill="#2c80ba"/>
<rect x="470.2" y="216.15" width="4.54" height="6.56" fill="#fdae61"/>
<rect x="470.2" y="216.15" width="3.4" height="6.56" fill="#f46d43"/>
<rect x="470.2" y="216.15" width="1.99" height="6.56" fill="#d7191c"/>
<line x1="464.81" y1="219.43" x2="467" y2="219.43" stroke="#555" stroke-width="0.6"/>
<text transform="translate(463.15,222.18) scale(1,1.12)" text-anchor="end" class="ax">Average temperature (Jul)</text>
<rect x="470.2" y="223.69" width="5.53" height="6.56" fill="#2c80ba"/>
<rect x="470.2" y="223.69" width="4.25" height="6.56" fill="#66c2a5"/>
<rect x="470.2" y="223.69" width="2.98" height="6.56" fill="#f46d43"/>
<rect x="470.2" y="223.69" width="1.7" height="6.56" fill="#d7191c"/>
<line x1="464.81" y1="226.98" x2="467" y2="226.98" stroke="#555" stroke-width="0.6"/>
<text transform="translate(463.15,229.73) scale(1,1.12)" text-anchor="end" class="ax">Minimum temperature (Jul)</text>
<rect x="470.2" y="231.24" width="4.68" height="6.56" fill="#2c80ba"/>
<rect x="470.2" y="231.24" width="2.55" height="6.56" fill="#d7191c"/>
<line x1="464.81" y1="234.52" x2="467" y2="234.52" stroke="#555" stroke-width="0.6"/>
<text transform="translate(463.15,237.27) scale(1,1.12)" text-anchor="end" class="ax">Rainy day (Feb)</text>
<rect x="470.2" y="238.78" width="3.97" height="6.56" fill="#2c80ba"/>
<rect x="470.2" y="238.78" width="1.84" height="6.56" fill="#fdae61"/>
<line x1="464.81" y1="242.07" x2="467" y2="242.07" stroke="#555" stroke-width="0.6"/>
<text transform="translate(463.15,244.82) scale(1,1.12)" text-anchor="end" class="ax">Evaporation (Jan)</text>
<rect x="470.2" y="246.33" width="1.91" height="6.56" fill="#fdae61"/>
<line x1="464.81" y1="249.61" x2="467" y2="249.61" stroke="#555" stroke-width="0.6"/>
<text transform="translate(463.15,252.36) scale(1,1.12)" text-anchor="end" class="ax">Real Evapotranspiration (Mar)</text>
<rect x="470.2" y="253.87" width="1.7" height="6.56" fill="#66c2a5"/>
<rect x="470.2" y="253.87" width="1.13" height="6.56" fill="#f46d43"/>
<line x1="464.81" y1="257.16" x2="467" y2="257.16" stroke="#555" stroke-width="0.6"/>
<text transform="translate(463.15,259.91) scale(1,1.12)" text-anchor="end" class="ax">Rain day (Jun)</text>
<rect x="467" y="147.45" width="78" height="113.85" fill="none" stroke="#9a9a9a" stroke-width="0.8"/>
<line x1="470.2" y1="261.3" x2="470.2" y2="263.5" stroke="#555" stroke-width="0.6"/>
<text transform="translate(470.2,268.9) scale(1,1.08)" text-anchor="middle" class="tk">0</text>
<line x1="484.38" y1="261.3" x2="484.38" y2="263.5" stroke="#555" stroke-width="0.6"/>
<text transform="translate(484.38,268.9) scale(1,1.08)" text-anchor="middle" class="tk">100</text>
<line x1="498.56" y1="261.3" x2="498.56" y2="263.5" stroke="#555" stroke-width="0.6"/>
<text transform="translate(498.56,268.9) scale(1,1.08)" text-anchor="middle" class="tk">200</text>
<line x1="512.74" y1="261.3" x2="512.74" y2="263.5" stroke="#555" stroke-width="0.6"/>
<text transform="translate(512.74,268.9) scale(1,1.08)" text-anchor="middle" class="tk">300</text>
<line x1="526.92" y1="261.3" x2="526.92" y2="263.5" stroke="#555" stroke-width="0.6"/>
<text transform="translate(526.92,268.9) scale(1,1.08)" text-anchor="middle" class="tk">400</text>
<line x1="541.1" y1="261.3" x2="541.1" y2="263.5" stroke="#555" stroke-width="0.6"/>
<text transform="translate(541.1,268.9) scale(1,1.08)" text-anchor="middle" class="tk">500</text>
<line x1="113.69" y1="277.5" x2="113.69" y2="391.4" stroke="#ebebeb" stroke-width="0.35"/>
<line x1="127.87" y1="277.5" x2="127.87" y2="391.4" stroke="#ebebeb" stroke-width="0.35"/>
<line x1="142.05" y1="277.5" x2="142.05" y2="391.4" stroke="#ebebeb" stroke-width="0.35"/>
<line x1="156.23" y1="277.5" x2="156.23" y2="391.4" stroke="#ebebeb" stroke-width="0.35"/>
<line x1="170.41" y1="277.5" x2="170.41" y2="391.4" stroke="#ebebeb" stroke-width="0.35"/>
<line x1="106.6" y1="277.5" x2="106.6" y2="391.4" stroke="#ebebeb" stroke-width="0.7"/>
<line x1="120.78" y1="277.5" x2="120.78" y2="391.4" stroke="#ebebeb" stroke-width="0.7"/>
<line x1="134.96" y1="277.5" x2="134.96" y2="391.4" stroke="#ebebeb" stroke-width="0.7"/>
<line x1="149.14" y1="277.5" x2="149.14" y2="391.4" stroke="#ebebeb" stroke-width="0.7"/>
<line x1="163.32" y1="277.5" x2="163.32" y2="391.4" stroke="#ebebeb" stroke-width="0.7"/>
<line x1="177.5" y1="277.5" x2="177.5" y2="391.4" stroke="#ebebeb" stroke-width="0.7"/>
<line x1="103.05" y1="281.63" x2="181.06" y2="281.63" stroke="#ebebeb" stroke-width="0.7"/>
<line x1="103.05" y1="289.17" x2="181.06" y2="289.17" stroke="#ebebeb" stroke-width="0.7"/>
<line x1="103.05" y1="296.72" x2="181.06" y2="296.72" stroke="#ebebeb" stroke-width="0.7"/>
<line x1="103.05" y1="304.26" x2="181.06" y2="304.26" stroke="#ebebeb" stroke-width="0.7"/>
<line x1="103.05" y1="311.81" x2="181.06" y2="311.81" stroke="#ebebeb" stroke-width="0.7"/>
<line x1="103.05" y1="319.35" x2="181.06" y2="319.35" stroke="#ebebeb" stroke-width="0.7"/>
<line x1="103.05" y1="326.9" x2="181.06" y2="326.9" stroke="#ebebeb" stroke-width="0.7"/>
<line x1="103.05" y1="334.44" x2="181.06" y2="334.44" stroke="#ebebeb" stroke-width="0.7"/>
<line x1="103.05" y1="341.99" x2="181.06" y2="341.99" stroke="#ebebeb" stroke-width="0.7"/>
<line x1="103.05" y1="349.53" x2="181.06" y2="349.53" stroke="#ebebeb" stroke-width="0.7"/>
<line x1="103.05" y1="357.08" x2="181.06" y2="357.08" stroke="#ebebeb" stroke-width="0.7"/>
<line x1="103.05" y1="364.62" x2="181.06" y2="364.62" stroke="#ebebeb" stroke-width="0.7"/>
<line x1="103.05" y1="372.17" x2="181.06" y2="372.17" stroke="#ebebeb" stroke-width="0.7"/>
<line x1="103.05" y1="379.71" x2="181.06" y2="379.71" stroke="#ebebeb" stroke-width="0.7"/>
<line x1="103.05" y1="387.26" x2="181.06" y2="387.26" stroke="#ebebeb" stroke-width="0.7"/>
<rect x="106.6" y="278.34" width="70.9" height="6.56" fill="#2c80ba"/>
<rect x="106.6" y="278.34" width="56.72" height="6.56" fill="#66c2a5"/>
<rect x="106.6" y="278.34" width="42.54" height="6.56" fill="#fdae61"/>
<rect x="106.6" y="278.34" width="28.36" height="6.56" fill="#f46d43"/>
<rect x="106.6" y="278.34" width="14.18" height="6.56" fill="#d7191c"/>
<line x1="101.2" y1="281.63" x2="103.4" y2="281.63" stroke="#555" stroke-width="0.6"/>
<text transform="translate(99.55,284.38) scale(1,1.12)" text-anchor="end" class="ax">Plant age</text>
<rect x="106.6" y="285.89" width="58.56" height="6.56" fill="#2c80ba"/>
<rect x="106.6" y="285.89" width="46.94" height="6.56" fill="#66c2a5"/>
<rect x="106.6" y="285.89" width="35.31" height="6.56" fill="#fdae61"/>
<rect x="106.6" y="285.89" width="23.26" height="6.56" fill="#f46d43"/>
<rect x="106.6" y="285.89" width="11.63" height="6.56" fill="#d7191c"/>
<line x1="101.2" y1="289.17" x2="103.4" y2="289.17" stroke="#555" stroke-width="0.6"/>
<text transform="translate(99.55,291.92) scale(1,1.12)" text-anchor="end" class="ax">Yield class (high)</text>
<rect x="106.6" y="293.43" width="36.87" height="6.56" fill="#2c80ba"/>
<rect x="106.6" y="293.43" width="28.93" height="6.56" fill="#66c2a5"/>
<rect x="106.6" y="293.43" width="20.99" height="6.56" fill="#fdae61"/>
<rect x="106.6" y="293.43" width="12.34" height="6.56" fill="#f46d43"/>
<rect x="106.6" y="293.43" width="5.81" height="6.56" fill="#d7191c"/>
<line x1="101.2" y1="296.72" x2="103.4" y2="296.72" stroke="#555" stroke-width="0.6"/>
<text transform="translate(99.55,299.47) scale(1,1.12)" text-anchor="end" class="ax">Minimum temperature (May)</text>
<rect x="106.6" y="300.98" width="34.74" height="6.56" fill="#2c80ba"/>
<rect x="106.6" y="300.98" width="27.93" height="6.56" fill="#66c2a5"/>
<rect x="106.6" y="300.98" width="21.27" height="6.56" fill="#fdae61"/>
<rect x="106.6" y="300.98" width="13.75" height="6.56" fill="#f46d43"/>
<rect x="106.6" y="300.98" width="6.81" height="6.56" fill="#d7191c"/>
<line x1="101.2" y1="304.26" x2="103.4" y2="304.26" stroke="#555" stroke-width="0.6"/>
<text transform="translate(99.55,307.01) scale(1,1.12)" text-anchor="end" class="ax">Exchangeable Cu</text>
<rect x="106.6" y="308.52" width="33.32" height="6.56" fill="#2c80ba"/>
<rect x="106.6" y="308.52" width="27.08" height="6.56" fill="#66c2a5"/>
<rect x="106.6" y="308.52" width="20.28" height="6.56" fill="#fdae61"/>
<rect x="106.6" y="308.52" width="13.47" height="6.56" fill="#f46d43"/>
<rect x="106.6" y="308.52" width="6.81" height="6.56" fill="#d7191c"/>
<line x1="101.2" y1="311.81" x2="103.4" y2="311.81" stroke="#555" stroke-width="0.6"/>
<text transform="translate(99.55,314.56) scale(1,1.12)" text-anchor="end" class="ax">Exchangeable Zn</text>
<rect x="106.6" y="316.07" width="32.33" height="6.56" fill="#2c80ba"/>
<rect x="106.6" y="316.07" width="26.09" height="6.56" fill="#66c2a5"/>
<rect x="106.6" y="316.07" width="19.57" height="6.56" fill="#fdae61"/>
<rect x="106.6" y="316.07" width="13.05" height="6.56" fill="#f46d43"/>
<rect x="106.6" y="316.07" width="6.24" height="6.56" fill="#d7191c"/>
<line x1="101.2" y1="319.35" x2="103.4" y2="319.35" stroke="#555" stroke-width="0.6"/>
<text transform="translate(99.55,322.1) scale(1,1.12)" text-anchor="end" class="ax">Exchangeable K</text>
<rect x="106.6" y="323.61" width="32.47" height="6.56" fill="#2c80ba"/>
<rect x="106.6" y="323.61" width="26.37" height="6.56" fill="#66c2a5"/>
<rect x="106.6" y="323.61" width="19.71" height="6.56" fill="#fdae61"/>
<rect x="106.6" y="323.61" width="13.19" height="6.56" fill="#f46d43"/>
<rect x="106.6" y="323.61" width="6.52" height="6.56" fill="#d7191c"/>
<line x1="101.2" y1="326.9" x2="103.4" y2="326.9" stroke="#555" stroke-width="0.6"/>
<text transform="translate(99.55,329.65) scale(1,1.12)" text-anchor="end" class="ax">Yield class (medium)</text>
<rect x="106.6" y="331.16" width="32.33" height="6.56" fill="#2c80ba"/>
<rect x="106.6" y="331.16" width="25.67" height="6.56" fill="#66c2a5"/>
<rect x="106.6" y="331.16" width="18.72" height="6.56" fill="#fdae61"/>
<rect x="106.6" y="331.16" width="11.77" height="6.56" fill="#f46d43"/>
<rect x="106.6" y="331.16" width="5.67" height="6.56" fill="#d7191c"/>
<line x1="101.2" y1="334.44" x2="103.4" y2="334.44" stroke="#555" stroke-width="0.6"/>
<text transform="translate(99.55,337.19) scale(1,1.12)" text-anchor="end" class="ax">Rainy day (Feb)</text>
<rect x="106.6" y="338.7" width="29.35" height="6.56" fill="#2c80ba"/>
<rect x="106.6" y="338.7" width="23.96" height="6.56" fill="#66c2a5"/>
<rect x="106.6" y="338.7" width="17.87" height="6.56" fill="#fdae61"/>
<rect x="106.6" y="338.7" width="11.77" height="6.56" fill="#f46d43"/>
<rect x="106.6" y="338.7" width="5.67" height="6.56" fill="#d7191c"/>
<line x1="101.2" y1="341.99" x2="103.4" y2="341.99" stroke="#555" stroke-width="0.6"/>
<text transform="translate(99.55,344.74) scale(1,1.12)" text-anchor="end" class="ax">Yield class (low)</text>
<rect x="106.6" y="346.25" width="27.23" height="6.56" fill="#2c80ba"/>
<rect x="106.6" y="346.25" width="21.41" height="6.56" fill="#66c2a5"/>
<rect x="106.6" y="346.25" width="14.61" height="6.56" fill="#fdae61"/>
<rect x="106.6" y="346.25" width="7.23" height="6.56" fill="#d7191c"/>
<line x1="101.2" y1="349.53" x2="103.4" y2="349.53" stroke="#555" stroke-width="0.6"/>
<text transform="translate(99.55,352.28) scale(1,1.12)" text-anchor="end" class="ax">Average temperature (May)</text>
<rect x="106.6" y="353.79" width="24.39" height="6.56" fill="#2c80ba"/>
<rect x="106.6" y="353.79" width="19.14" height="6.56" fill="#66c2a5"/>
<rect x="106.6" y="353.79" width="13.33" height="6.56" fill="#fdae61"/>
<rect x="106.6" y="353.79" width="5.67" height="6.56" fill="#f46d43"/>
<line x1="101.2" y1="357.08" x2="103.4" y2="357.08" stroke="#555" stroke-width="0.6"/>
<text transform="translate(99.55,359.83) scale(1,1.12)" text-anchor="end" class="ax">Cloudiness (Feb)</text>
<rect x="106.6" y="361.34" width="22.83" height="6.56" fill="#2c80ba"/>
<rect x="106.6" y="361.34" width="16.73" height="6.56" fill="#66c2a5"/>
<rect x="106.6" y="361.34" width="11.49" height="6.56" fill="#f46d43"/>
<rect x="106.6" y="361.34" width="5.67" height="6.56" fill="#d7191c"/>
<line x1="101.2" y1="364.62" x2="103.4" y2="364.62" stroke="#555" stroke-width="0.6"/>
<text transform="translate(99.55,367.37) scale(1,1.12)" text-anchor="end" class="ax">Precipitation (Sep)</text>
<rect x="106.6" y="368.88" width="15.31" height="6.56" fill="#fdae61"/>
<rect x="106.6" y="368.88" width="10.35" height="6.56" fill="#f46d43"/>
<rect x="106.6" y="368.88" width="4.96" height="6.56" fill="#d7191c"/>
<line x1="101.2" y1="372.17" x2="103.4" y2="372.17" stroke="#555" stroke-width="0.6"/>
<text transform="translate(99.55,374.92) scale(1,1.12)" text-anchor="end" class="ax">Cultivar (Cab. Sauvignon)</text>
<rect x="106.6" y="376.43" width="14.89" height="6.56" fill="#66c2a5"/>
<rect x="106.6" y="376.43" width="7.52" height="6.56" fill="#d7191c"/>
<line x1="101.2" y1="379.71" x2="103.4" y2="379.71" stroke="#555" stroke-width="0.6"/>
<text transform="translate(99.55,382.46) scale(1,1.12)" text-anchor="end" class="ax">Evaporation (Sep)</text>
<rect x="106.6" y="383.97" width="14.61" height="6.56" fill="#66c2a5"/>
<rect x="106.6" y="383.97" width="6.52" height="6.56" fill="#f46d43"/>
<line x1="101.2" y1="387.26" x2="103.4" y2="387.26" stroke="#555" stroke-width="0.6"/>
<text transform="translate(99.55,390.01) scale(1,1.12)" text-anchor="end" class="ax">Rain day (Jun)</text>
<rect x="103.4" y="277.5" width="78" height="113.9" fill="none" stroke="#9a9a9a" stroke-width="0.8"/>
<line x1="106.6" y1="391.4" x2="106.6" y2="393.6" stroke="#555" stroke-width="0.6"/>
<text transform="translate(106.6,399.2) scale(1,1.08)" text-anchor="middle" class="tk">0</text>
<line x1="120.78" y1="391.4" x2="120.78" y2="393.6" stroke="#555" stroke-width="0.6"/>
<text transform="translate(120.78,399.2) scale(1,1.08)" text-anchor="middle" class="tk">100</text>
<line x1="134.96" y1="391.4" x2="134.96" y2="393.6" stroke="#555" stroke-width="0.6"/>
<text transform="translate(134.96,399.2) scale(1,1.08)" text-anchor="middle" class="tk">200</text>
<line x1="149.14" y1="391.4" x2="149.14" y2="393.6" stroke="#555" stroke-width="0.6"/>
<text transform="translate(149.14,399.2) scale(1,1.08)" text-anchor="middle" class="tk">300</text>
<line x1="163.32" y1="391.4" x2="163.32" y2="393.6" stroke="#555" stroke-width="0.6"/>
<text transform="translate(163.32,399.2) scale(1,1.08)" text-anchor="middle" class="tk">400</text>
<line x1="177.5" y1="391.4" x2="177.5" y2="393.6" stroke="#555" stroke-width="0.6"/>
<text transform="translate(177.5,399.2) scale(1,1.08)" text-anchor="middle" class="tk">500</text>
<line x1="295.49" y1="277.5" x2="295.49" y2="391.4" stroke="#ebebeb" stroke-width="0.35"/>
<line x1="309.67" y1="277.5" x2="309.67" y2="391.4" stroke="#ebebeb" stroke-width="0.35"/>
<line x1="323.85" y1="277.5" x2="323.85" y2="391.4" stroke="#ebebeb" stroke-width="0.35"/>
<line x1="338.03" y1="277.5" x2="338.03" y2="391.4" stroke="#ebebeb" stroke-width="0.35"/>
<line x1="352.21" y1="277.5" x2="352.21" y2="391.4" stroke="#ebebeb" stroke-width="0.35"/>
<line x1="288.4" y1="277.5" x2="288.4" y2="391.4" stroke="#ebebeb" stroke-width="0.7"/>
<line x1="302.58" y1="277.5" x2="302.58" y2="391.4" stroke="#ebebeb" stroke-width="0.7"/>
<line x1="316.76" y1="277.5" x2="316.76" y2="391.4" stroke="#ebebeb" stroke-width="0.7"/>
<line x1="330.94" y1="277.5" x2="330.94" y2="391.4" stroke="#ebebeb" stroke-width="0.7"/>
<line x1="345.12" y1="277.5" x2="345.12" y2="391.4" stroke="#ebebeb" stroke-width="0.7"/>
<line x1="359.3" y1="277.5" x2="359.3" y2="391.4" stroke="#ebebeb" stroke-width="0.7"/>
<line x1="284.85" y1="281.63" x2="362.85" y2="281.63" stroke="#ebebeb" stroke-width="0.7"/>
<line x1="284.85" y1="289.17" x2="362.85" y2="289.17" stroke="#ebebeb" stroke-width="0.7"/>
<line x1="284.85" y1="296.72" x2="362.85" y2="296.72" stroke="#ebebeb" stroke-width="0.7"/>
<line x1="284.85" y1="304.26" x2="362.85" y2="304.26" stroke="#ebebeb" stroke-width="0.7"/>
<line x1="284.85" y1="311.81" x2="362.85" y2="311.81" stroke="#ebebeb" stroke-width="0.7"/>
<line x1="284.85" y1="319.35" x2="362.85" y2="319.35" stroke="#ebebeb" stroke-width="0.7"/>
<line x1="284.85" y1="326.9" x2="362.85" y2="326.9" stroke="#ebebeb" stroke-width="0.7"/>
<line x1="284.85" y1="334.44" x2="362.85" y2="334.44" stroke="#ebebeb" stroke-width="0.7"/>
<line x1="284.85" y1="341.99" x2="362.85" y2="341.99" stroke="#ebebeb" stroke-width="0.7"/>
<line x1="284.85" y1="349.53" x2="362.85" y2="349.53" stroke="#ebebeb" stroke-width="0.7"/>
<line x1="284.85" y1="357.08" x2="362.85" y2="357.08" stroke="#ebebeb" stroke-width="0.7"/>
<line x1="284.85" y1="364.62" x2="362.85" y2="364.62" stroke="#ebebeb" stroke-width="0.7"/>
<line x1="284.85" y1="372.17" x2="362.85" y2="372.17" stroke="#ebebeb" stroke-width="0.7"/>
<line x1="284.85" y1="379.71" x2="362.85" y2="379.71" stroke="#ebebeb" stroke-width="0.7"/>
<line x1="284.85" y1="387.26" x2="362.85" y2="387.26" stroke="#ebebeb" stroke-width="0.7"/>
<rect x="288.4" y="278.34" width="70.9" height="6.56" fill="#2c80ba"/>
<rect x="288.4" y="278.34" width="56.72" height="6.56" fill="#66c2a5"/>
<rect x="288.4" y="278.34" width="42.54" height="6.56" fill="#fdae61"/>
<rect x="288.4" y="278.34" width="28.36" height="6.56" fill="#f46d43"/>
<rect x="288.4" y="278.34" width="14.18" height="6.56" fill="#d7191c"/>
<line x1="283" y1="281.63" x2="285.2" y2="281.63" stroke="#555" stroke-width="0.6"/>
<text transform="translate(281.35,284.38) scale(1,1.12)" text-anchor="end" class="ax">Plant age</text>
<rect x="288.4" y="285.89" width="51.47" height="6.56" fill="#2c80ba"/>
<rect x="288.4" y="285.89" width="41.26" height="6.56" fill="#66c2a5"/>
<rect x="288.4" y="285.89" width="31.05" height="6.56" fill="#fdae61"/>
<rect x="288.4" y="285.89" width="20.84" height="6.56" fill="#f46d43"/>
<rect x="288.4" y="285.89" width="10.92" height="6.56" fill="#d7191c"/>
<line x1="283" y1="289.17" x2="285.2" y2="289.17" stroke="#555" stroke-width="0.6"/>
<text transform="translate(281.35,291.92) scale(1,1.12)" text-anchor="end" class="ax">Vineyard plot</text>
<rect x="288.4" y="293.43" width="36.3" height="6.56" fill="#2c80ba"/>
<rect x="288.4" y="293.43" width="29.49" height="6.56" fill="#66c2a5"/>
<rect x="288.4" y="293.43" width="21.84" height="6.56" fill="#fdae61"/>
<rect x="288.4" y="293.43" width="10.64" height="6.56" fill="#f46d43"/>
<line x1="283" y1="296.72" x2="285.2" y2="296.72" stroke="#555" stroke-width="0.6"/>
<text transform="translate(281.35,299.47) scale(1,1.12)" text-anchor="end" class="ax">Relative humidity (Oct)</text>
<rect x="288.4" y="300.98" width="34.32" height="6.56" fill="#2c80ba"/>
<rect x="288.4" y="300.98" width="24.53" height="6.56" fill="#66c2a5"/>
<rect x="288.4" y="300.98" width="18.29" height="6.56" fill="#fdae61"/>
<rect x="288.4" y="300.98" width="7.8" height="6.56" fill="#f46d43"/>
<rect x="288.4" y="300.98" width="3.69" height="6.56" fill="#d7191c"/>
<line x1="283" y1="304.26" x2="285.2" y2="304.26" stroke="#555" stroke-width="0.6"/>
<text transform="translate(281.35,307.01) scale(1,1.12)" text-anchor="end" class="ax">Minimum temperature (May)</text>
<rect x="288.4" y="308.52" width="28.5" height="6.56" fill="#2c80ba"/>
<rect x="288.4" y="308.52" width="23.68" height="6.56" fill="#66c2a5"/>
<rect x="288.4" y="308.52" width="17.87" height="6.56" fill="#fdae61"/>
<rect x="288.4" y="308.52" width="11.63" height="6.56" fill="#f46d43"/>
<rect x="288.4" y="308.52" width="6.24" height="6.56" fill="#d7191c"/>
<line x1="283" y1="311.81" x2="285.2" y2="311.81" stroke="#555" stroke-width="0.6"/>
<text transform="translate(281.35,314.56) scale(1,1.12)" text-anchor="end" class="ax">Cation Exchange Capacity</text>
<rect x="288.4" y="316.07" width="27.37" height="6.56" fill="#2c80ba"/>
<rect x="288.4" y="316.07" width="23.68" height="6.56" fill="#66c2a5"/>
<rect x="288.4" y="316.07" width="16.87" height="6.56" fill="#fdae61"/>
<rect x="288.4" y="316.07" width="13.47" height="6.56" fill="#f46d43"/>
<rect x="288.4" y="316.07" width="5.53" height="6.56" fill="#d7191c"/>
<line x1="283" y1="319.35" x2="285.2" y2="319.35" stroke="#555" stroke-width="0.6"/>
<text transform="translate(281.35,322.1) scale(1,1.12)" text-anchor="end" class="ax">Rain day (Jun)</text>
<rect x="288.4" y="323.61" width="26.94" height="6.56" fill="#2c80ba"/>
<rect x="288.4" y="323.61" width="21.98" height="6.56" fill="#66c2a5"/>
<rect x="288.4" y="323.61" width="16.87" height="6.56" fill="#fdae61"/>
<rect x="288.4" y="323.61" width="11.2" height="6.56" fill="#f46d43"/>
<rect x="288.4" y="323.61" width="6.1" height="6.56" fill="#d7191c"/>
<line x1="283" y1="326.9" x2="285.2" y2="326.9" stroke="#555" stroke-width="0.6"/>
<text transform="translate(281.35,329.65) scale(1,1.12)" text-anchor="end" class="ax">Cation Exchange Capacity (pH 7)</text>
<rect x="288.4" y="331.16" width="26.94" height="6.56" fill="#2c80ba"/>
<rect x="288.4" y="331.16" width="21.98" height="6.56" fill="#66c2a5"/>
<rect x="288.4" y="331.16" width="16.87" height="6.56" fill="#fdae61"/>
<rect x="288.4" y="331.16" width="11.2" height="6.56" fill="#f46d43"/>
<rect x="288.4" y="331.16" width="5.53" height="6.56" fill="#d7191c"/>
<line x1="283" y1="334.44" x2="285.2" y2="334.44" stroke="#555" stroke-width="0.6"/>
<text transform="translate(281.35,337.19) scale(1,1.12)" text-anchor="end" class="ax">Exchangeable Ca</text>
<rect x="288.4" y="338.7" width="25.95" height="6.56" fill="#2c80ba"/>
<rect x="288.4" y="338.7" width="21.27" height="6.56" fill="#66c2a5"/>
<rect x="288.4" y="338.7" width="16.31" height="6.56" fill="#fdae61"/>
<rect x="288.4" y="338.7" width="10.49" height="6.56" fill="#f46d43"/>
<rect x="288.4" y="338.7" width="5.1" height="6.56" fill="#d7191c"/>
<line x1="283" y1="341.99" x2="285.2" y2="341.99" stroke="#555" stroke-width="0.6"/>
<text transform="translate(281.35,344.74) scale(1,1.12)" text-anchor="end" class="ax">Exchangeable K</text>
<rect x="288.4" y="346.25" width="25.1" height="6.56" fill="#2c80ba"/>
<rect x="288.4" y="346.25" width="19.71" height="6.56" fill="#66c2a5"/>
<rect x="288.4" y="346.25" width="15.88" height="6.56" fill="#fdae61"/>
<rect x="288.4" y="346.25" width="10.49" height="6.56" fill="#f46d43"/>
<rect x="288.4" y="346.25" width="5.53" height="6.56" fill="#d7191c"/>
<line x1="283" y1="349.53" x2="285.2" y2="349.53" stroke="#555" stroke-width="0.6"/>
<text transform="translate(281.35,352.28) scale(1,1.12)" text-anchor="end" class="ax">Base Saturation</text>
<rect x="288.4" y="353.79" width="20.99" height="6.56" fill="#2c80ba"/>
<rect x="288.4" y="353.79" width="16.31" height="6.56" fill="#66c2a5"/>
<rect x="288.4" y="353.79" width="12.76" height="6.56" fill="#fdae61"/>
<rect x="288.4" y="353.79" width="8.08" height="6.56" fill="#f46d43"/>
<rect x="288.4" y="353.79" width="3.97" height="6.56" fill="#d7191c"/>
<line x1="283" y1="357.08" x2="285.2" y2="357.08" stroke="#555" stroke-width="0.6"/>
<text transform="translate(281.35,359.83) scale(1,1.12)" text-anchor="end" class="ax">Potential acidity</text>
<rect x="288.4" y="361.34" width="16.73" height="6.56" fill="#2c80ba"/>
<rect x="288.4" y="361.34" width="13.61" height="6.56" fill="#66c2a5"/>
<rect x="288.4" y="361.34" width="10.21" height="6.56" fill="#fdae61"/>
<rect x="288.4" y="361.34" width="6.66" height="6.56" fill="#f46d43"/>
<rect x="288.4" y="361.34" width="3.55" height="6.56" fill="#d7191c"/>
<line x1="283" y1="364.62" x2="285.2" y2="364.62" stroke="#555" stroke-width="0.6"/>
<text transform="translate(281.35,367.37) scale(1,1.12)" text-anchor="end" class="ax">Organic Matter</text>
<rect x="288.4" y="368.88" width="16.73" height="6.56" fill="#2c80ba"/>
<rect x="288.4" y="368.88" width="12.9" height="6.56" fill="#66c2a5"/>
<rect x="288.4" y="368.88" width="9.78" height="6.56" fill="#fdae61"/>
<rect x="288.4" y="368.88" width="5.67" height="6.56" fill="#f46d43"/>
<rect x="288.4" y="368.88" width="2.84" height="6.56" fill="#d7191c"/>
<line x1="283" y1="372.17" x2="285.2" y2="372.17" stroke="#555" stroke-width="0.6"/>
<text transform="translate(281.35,374.92) scale(1,1.12)" text-anchor="end" class="ax">Exchangeable Zn</text>
<rect x="288.4" y="376.43" width="16.59" height="6.56" fill="#2c80ba"/>
<rect x="288.4" y="376.43" width="12.76" height="6.56" fill="#66c2a5"/>
<rect x="288.4" y="376.43" width="9.64" height="6.56" fill="#fdae61"/>
<rect x="288.4" y="376.43" width="5.53" height="6.56" fill="#f46d43"/>
<rect x="288.4" y="376.43" width="3.12" height="6.56" fill="#d7191c"/>
<line x1="283" y1="379.71" x2="285.2" y2="379.71" stroke="#555" stroke-width="0.6"/>
<text transform="translate(281.35,382.46) scale(1,1.12)" text-anchor="end" class="ax">Exchangeable Cu</text>
<rect x="288.4" y="383.97" width="10.64" height="6.56" fill="#2c80ba"/>
<rect x="288.4" y="383.97" width="7.52" height="6.56" fill="#66c2a5"/>
<rect x="288.4" y="383.97" width="5.67" height="6.56" fill="#fdae61"/>
<rect x="288.4" y="383.97" width="2.84" height="6.56" fill="#f46d43"/>
<line x1="283" y1="387.26" x2="285.2" y2="387.26" stroke="#555" stroke-width="0.6"/>
<text transform="translate(281.35,390.01) scale(1,1.12)" text-anchor="end" class="ax">Exchangeable Mg</text>
<rect x="285.2" y="277.5" width="78" height="113.9" fill="none" stroke="#9a9a9a" stroke-width="0.8"/>
<line x1="288.4" y1="391.4" x2="288.4" y2="393.6" stroke="#555" stroke-width="0.6"/>
<text transform="translate(288.4,399.2) scale(1,1.08)" text-anchor="middle" class="tk">0</text>
<line x1="302.58" y1="391.4" x2="302.58" y2="393.6" stroke="#555" stroke-width="0.6"/>
<text transform="translate(302.58,399.2) scale(1,1.08)" text-anchor="middle" class="tk">100</text>
<line x1="316.76" y1="391.4" x2="316.76" y2="393.6" stroke="#555" stroke-width="0.6"/>
<text transform="translate(316.76,399.2) scale(1,1.08)" text-anchor="middle" class="tk">200</text>
<line x1="330.94" y1="391.4" x2="330.94" y2="393.6" stroke="#555" stroke-width="0.6"/>
<text transform="translate(330.94,399.2) scale(1,1.08)" text-anchor="middle" class="tk">300</text>
<line x1="345.12" y1="391.4" x2="345.12" y2="393.6" stroke="#555" stroke-width="0.6"/>
<text transform="translate(345.12,399.2) scale(1,1.08)" text-anchor="middle" class="tk">400</text>
<line x1="359.3" y1="391.4" x2="359.3" y2="393.6" stroke="#555" stroke-width="0.6"/>
<text transform="translate(359.3,399.2) scale(1,1.08)" text-anchor="middle" class="tk">500</text>
<line x1="477.29" y1="277.5" x2="477.29" y2="391.4" stroke="#ebebeb" stroke-width="0.35"/>
<line x1="491.47" y1="277.5" x2="491.47" y2="391.4" stroke="#ebebeb" stroke-width="0.35"/>
<line x1="505.65" y1="277.5" x2="505.65" y2="391.4" stroke="#ebebeb" stroke-width="0.35"/>
<line x1="519.83" y1="277.5" x2="519.83" y2="391.4" stroke="#ebebeb" stroke-width="0.35"/>
<line x1="534.01" y1="277.5" x2="534.01" y2="391.4" stroke="#ebebeb" stroke-width="0.35"/>
<line x1="470.2" y1="277.5" x2="470.2" y2="391.4" stroke="#ebebeb" stroke-width="0.7"/>
<line x1="484.38" y1="277.5" x2="484.38" y2="391.4" stroke="#ebebeb" stroke-width="0.7"/>
<line x1="498.56" y1="277.5" x2="498.56" y2="391.4" stroke="#ebebeb" stroke-width="0.7"/>
<line x1="512.74" y1="277.5" x2="512.74" y2="391.4" stroke="#ebebeb" stroke-width="0.7"/>
<line x1="526.92" y1="277.5" x2="526.92" y2="391.4" stroke="#ebebeb" stroke-width="0.7"/>
<line x1="541.1" y1="277.5" x2="541.1" y2="391.4" stroke="#ebebeb" stroke-width="0.7"/>
<line x1="466.65" y1="281.63" x2="544.65" y2="281.63" stroke="#ebebeb" stroke-width="0.7"/>
<line x1="466.65" y1="289.17" x2="544.65" y2="289.17" stroke="#ebebeb" stroke-width="0.7"/>
<line x1="466.65" y1="296.72" x2="544.65" y2="296.72" stroke="#ebebeb" stroke-width="0.7"/>
<line x1="466.65" y1="304.26" x2="544.65" y2="304.26" stroke="#ebebeb" stroke-width="0.7"/>
<line x1="466.65" y1="311.81" x2="544.65" y2="311.81" stroke="#ebebeb" stroke-width="0.7"/>
<line x1="466.65" y1="319.35" x2="544.65" y2="319.35" stroke="#ebebeb" stroke-width="0.7"/>
<line x1="466.65" y1="326.9" x2="544.65" y2="326.9" stroke="#ebebeb" stroke-width="0.7"/>
<line x1="466.65" y1="334.44" x2="544.65" y2="334.44" stroke="#ebebeb" stroke-width="0.7"/>
<line x1="466.65" y1="341.99" x2="544.65" y2="341.99" stroke="#ebebeb" stroke-width="0.7"/>
<line x1="466.65" y1="349.53" x2="544.65" y2="349.53" stroke="#ebebeb" stroke-width="0.7"/>
<line x1="466.65" y1="357.08" x2="544.65" y2="357.08" stroke="#ebebeb" stroke-width="0.7"/>
<line x1="466.65" y1="364.62" x2="544.65" y2="364.62" stroke="#ebebeb" stroke-width="0.7"/>
<line x1="466.65" y1="372.17" x2="544.65" y2="372.17" stroke="#ebebeb" stroke-width="0.7"/>
<line x1="466.65" y1="379.71" x2="544.65" y2="379.71" stroke="#ebebeb" stroke-width="0.7"/>
<line x1="466.65" y1="387.26" x2="544.65" y2="387.26" stroke="#ebebeb" stroke-width="0.7"/>
<rect x="470.2" y="278.34" width="70.9" height="6.56" fill="#2c80ba"/>
<rect x="470.2" y="278.34" width="56.72" height="6.56" fill="#66c2a5"/>
<rect x="470.2" y="278.34" width="42.54" height="6.56" fill="#fdae61"/>
<rect x="470.2" y="278.34" width="28.36" height="6.56" fill="#f46d43"/>
<rect x="470.2" y="278.34" width="14.18" height="6.56" fill="#d7191c"/>
<line x1="464.81" y1="281.63" x2="467" y2="281.63" stroke="#555" stroke-width="0.6"/>
<text transform="translate(463.15,284.38) scale(1,1.12)" text-anchor="end" class="ax">Plant age</text>
<rect x="470.2" y="285.89" width="63.53" height="6.56" fill="#2c80ba"/>
<rect x="470.2" y="285.89" width="51.33" height="6.56" fill="#66c2a5"/>
<rect x="470.2" y="285.89" width="38.57" height="6.56" fill="#fdae61"/>
<rect x="470.2" y="285.89" width="25.81" height="6.56" fill="#f46d43"/>
<rect x="470.2" y="285.89" width="12.9" height="6.56" fill="#d7191c"/>
<line x1="464.81" y1="289.17" x2="467" y2="289.17" stroke="#555" stroke-width="0.6"/>
<text transform="translate(463.15,291.92) scale(1,1.12)" text-anchor="end" class="ax">Yield class</text>
<rect x="470.2" y="293.43" width="25.24" height="6.56" fill="#2c80ba"/>
<rect x="470.2" y="293.43" width="20.7" height="6.56" fill="#66c2a5"/>
<rect x="470.2" y="293.43" width="12.9" height="6.56" fill="#fdae61"/>
<rect x="470.2" y="293.43" width="5.67" height="6.56" fill="#d7191c"/>
<line x1="464.81" y1="296.72" x2="467" y2="296.72" stroke="#555" stroke-width="0.6"/>
<text transform="translate(463.15,299.47) scale(1,1.12)" text-anchor="end" class="ax">Average temperature (May)</text>
<rect x="470.2" y="300.98" width="20.7" height="6.56" fill="#2c80ba"/>
<rect x="470.2" y="300.98" width="16.73" height="6.56" fill="#66c2a5"/>
<rect x="470.2" y="300.98" width="12.9" height="6.56" fill="#fdae61"/>
<rect x="470.2" y="300.98" width="8.65" height="6.56" fill="#f46d43"/>
<rect x="470.2" y="300.98" width="4.25" height="6.56" fill="#d7191c"/>
<line x1="464.81" y1="304.26" x2="467" y2="304.26" stroke="#555" stroke-width="0.6"/>
<text transform="translate(463.15,307.01) scale(1,1.12)" text-anchor="end" class="ax">Grape cutivar</text>
<rect x="470.2" y="308.52" width="16.31" height="6.56" fill="#2c80ba"/>
<rect x="470.2" y="308.52" width="13.75" height="6.56" fill="#66c2a5"/>
<rect x="470.2" y="308.52" width="10.07" height="6.56" fill="#fdae61"/>
<rect x="470.2" y="308.52" width="6.81" height="6.56" fill="#f46d43"/>
<rect x="470.2" y="308.52" width="3.4" height="6.56" fill="#d7191c"/>
<line x1="464.81" y1="311.81" x2="467" y2="311.81" stroke="#555" stroke-width="0.6"/>
<text transform="translate(463.15,314.56) scale(1,1.12)" text-anchor="end" class="ax">Exchangeable Zn</text>
<rect x="470.2" y="316.07" width="15.74" height="6.56" fill="#2c80ba"/>
<rect x="470.2" y="316.07" width="12.9" height="6.56" fill="#66c2a5"/>
<rect x="470.2" y="316.07" width="9.36" height="6.56" fill="#fdae61"/>
<rect x="470.2" y="316.07" width="6.52" height="6.56" fill="#f46d43"/>
<rect x="470.2" y="316.07" width="3.12" height="6.56" fill="#d7191c"/>
<line x1="464.81" y1="319.35" x2="467" y2="319.35" stroke="#555" stroke-width="0.6"/>
<text transform="translate(463.15,322.1) scale(1,1.12)" text-anchor="end" class="ax">Base Saturation</text>
<rect x="470.2" y="323.61" width="15.74" height="6.56" fill="#2c80ba"/>
<rect x="470.2" y="323.61" width="12.62" height="6.56" fill="#66c2a5"/>
<rect x="470.2" y="323.61" width="9.5" height="6.56" fill="#fdae61"/>
<rect x="470.2" y="323.61" width="5.96" height="6.56" fill="#f46d43"/>
<rect x="470.2" y="323.61" width="2.84" height="6.56" fill="#d7191c"/>
<line x1="464.81" y1="326.9" x2="467" y2="326.9" stroke="#555" stroke-width="0.6"/>
<text transform="translate(463.15,329.65) scale(1,1.12)" text-anchor="end" class="ax">Vineyard plot</text>
<rect x="470.2" y="331.16" width="15.31" height="6.56" fill="#2c80ba"/>
<rect x="470.2" y="331.16" width="13.47" height="6.56" fill="#66c2a5"/>
<rect x="470.2" y="331.16" width="10.35" height="6.56" fill="#fdae61"/>
<rect x="470.2" y="331.16" width="7.23" height="6.56" fill="#f46d43"/>
<rect x="470.2" y="331.16" width="3.12" height="6.56" fill="#d7191c"/>
<line x1="464.81" y1="334.44" x2="467" y2="334.44" stroke="#555" stroke-width="0.6"/>
<text transform="translate(463.15,337.19) scale(1,1.12)" text-anchor="end" class="ax">Precipitation (Aug)</text>
<rect x="470.2" y="338.7" width="15.17" height="6.56" fill="#2c80ba"/>
<rect x="470.2" y="338.7" width="12.05" height="6.56" fill="#66c2a5"/>
<rect x="470.2" y="338.7" width="8.93" height="6.56" fill="#fdae61"/>
<rect x="470.2" y="338.7" width="6.38" height="6.56" fill="#f46d43"/>
<rect x="470.2" y="338.7" width="2.84" height="6.56" fill="#d7191c"/>
<line x1="464.81" y1="341.99" x2="467" y2="341.99" stroke="#555" stroke-width="0.6"/>
<text transform="translate(463.15,344.74) scale(1,1.12)" text-anchor="end" class="ax">Exchangeable Cu</text>
<rect x="470.2" y="346.25" width="14.61" height="6.56" fill="#2c80ba"/>
<rect x="470.2" y="346.25" width="11.63" height="6.56" fill="#66c2a5"/>
<rect x="470.2" y="346.25" width="8.79" height="6.56" fill="#fdae61"/>
<rect x="470.2" y="346.25" width="5.96" height="6.56" fill="#f46d43"/>
<rect x="470.2" y="346.25" width="2.84" height="6.56" fill="#d7191c"/>
<line x1="464.81" y1="349.53" x2="467" y2="349.53" stroke="#555" stroke-width="0.6"/>
<text transform="translate(463.15,352.28) scale(1,1.12)" text-anchor="end" class="ax">Exchangeable P</text>
<rect x="470.2" y="353.79" width="12.34" height="6.56" fill="#2c80ba"/>
<rect x="470.2" y="353.79" width="9.5" height="6.56" fill="#66c2a5"/>
<rect x="470.2" y="353.79" width="7.23" height="6.56" fill="#fdae61"/>
<rect x="470.2" y="353.79" width="4.68" height="6.56" fill="#f46d43"/>
<rect x="470.2" y="353.79" width="2.27" height="6.56" fill="#d7191c"/>
<line x1="464.81" y1="357.08" x2="467" y2="357.08" stroke="#555" stroke-width="0.6"/>
<text transform="translate(463.15,359.83) scale(1,1.12)" text-anchor="end" class="ax">Exchangeable K</text>
<rect x="470.2" y="361.34" width="11.77" height="6.56" fill="#2c80ba"/>
<rect x="470.2" y="361.34" width="8.93" height="6.56" fill="#66c2a5"/>
<rect x="470.2" y="361.34" width="6.38" height="6.56" fill="#f46d43"/>
<rect x="470.2" y="361.34" width="3.55" height="6.56" fill="#d7191c"/>
<line x1="464.81" y1="364.62" x2="467" y2="364.62" stroke="#555" stroke-width="0.6"/>
<text transform="translate(463.15,367.37) scale(1,1.12)" text-anchor="end" class="ax">Maximum temperature (May)</text>
<rect x="470.2" y="368.88" width="11.34" height="6.56" fill="#fdae61"/>
<rect x="470.2" y="368.88" width="6.66" height="6.56" fill="#f46d43"/>
<line x1="464.81" y1="372.17" x2="467" y2="372.17" stroke="#555" stroke-width="0.6"/>
<text transform="translate(463.15,374.92) scale(1,1.12)" text-anchor="end" class="ax">Minimum temperature (May)</text>
<rect x="470.2" y="376.43" width="10.78" height="6.56" fill="#2c80ba"/>
<rect x="470.2" y="376.43" width="8.79" height="6.56" fill="#66c2a5"/>
<rect x="470.2" y="376.43" width="6.24" height="6.56" fill="#fdae61"/>
<rect x="470.2" y="376.43" width="4.25" height="6.56" fill="#f46d43"/>
<rect x="470.2" y="376.43" width="2.27" height="6.56" fill="#d7191c"/>
<line x1="464.81" y1="379.71" x2="467" y2="379.71" stroke="#555" stroke-width="0.6"/>
<text transform="translate(463.15,382.46) scale(1,1.12)" text-anchor="end" class="ax">Exchangeable Mn</text>
<rect x="470.2" y="383.97" width="10.35" height="6.56" fill="#2c80ba"/>
<rect x="470.2" y="383.97" width="8.37" height="6.56" fill="#66c2a5"/>
<rect x="470.2" y="383.97" width="6.24" height="6.56" fill="#fdae61"/>
<rect x="470.2" y="383.97" width="4.25" height="6.56" fill="#f46d43"/>
<rect x="470.2" y="383.97" width="1.99" height="6.56" fill="#d7191c"/>
<line x1="464.81" y1="387.26" x2="467" y2="387.26" stroke="#555" stroke-width="0.6"/>
<text transform="translate(463.15,390.01) scale(1,1.12)" text-anchor="end" class="ax">Exchangeable S</text>
<rect x="467" y="277.5" width="78" height="113.9" fill="none" stroke="#9a9a9a" stroke-width="0.8"/>
<line x1="470.2" y1="391.4" x2="470.2" y2="393.6" stroke="#555" stroke-width="0.6"/>
<text transform="translate(470.2,399.2) scale(1,1.08)" text-anchor="middle" class="tk">0</text>
<line x1="484.38" y1="391.4" x2="484.38" y2="393.6" stroke="#555" stroke-width="0.6"/>
<text transform="translate(484.38,399.2) scale(1,1.08)" text-anchor="middle" class="tk">100</text>
<line x1="498.56" y1="391.4" x2="498.56" y2="393.6" stroke="#555" stroke-width="0.6"/>
<text transform="translate(498.56,399.2) scale(1,1.08)" text-anchor="middle" class="tk">200</text>
<line x1="512.74" y1="391.4" x2="512.74" y2="393.6" stroke="#555" stroke-width="0.6"/>
<text transform="translate(512.74,399.2) scale(1,1.08)" text-anchor="middle" class="tk">300</text>
<line x1="526.92" y1="391.4" x2="526.92" y2="393.6" stroke="#555" stroke-width="0.6"/>
<text transform="translate(526.92,399.2) scale(1,1.08)" text-anchor="middle" class="tk">400</text>
<line x1="541.1" y1="391.4" x2="541.1" y2="393.6" stroke="#555" stroke-width="0.6"/>
<text transform="translate(541.1,399.2) scale(1,1.08)" text-anchor="middle" class="tk">500</text>
<text transform="translate(103.05,11.7) scale(1,1.05)" class="ti">PLSR</text>
<text transform="translate(284.85,11.7) scale(1,1.05)" class="ti">CUB</text>
<text transform="translate(466.65,11.7) scale(1,1.05)" class="ti">RF</text>
<text x="0" y="0" transform="translate(10.1,73.9) rotate(-90)" text-anchor="middle" class="rl">Soil dataset</text>
<text x="0" y="0" transform="translate(10.1,204.38) rotate(-90)" text-anchor="middle" class="rl">Weather dataset</text>
<text x="0" y="0" transform="translate(10.1,334.45) rotate(-90)" text-anchor="middle" class="rl">Soil + Weather dataset</text>
<text transform="translate(324.2,409.2) scale(1,1.08)" text-anchor="middle" class="vl">Value</text>
<text transform="translate(191,429.4) scale(1,1.08)" class="lg">Imputation set</text>
<rect x="244.9" y="421.8" width="9.7" height="9.7" fill="#2c80ba"/>
<text transform="translate(259.4,429.2) scale(1,1.08)" class="lk">1</text>
<rect x="268.2" y="421.8" width="9.7" height="9.7" fill="#66c2a5"/>
<text transform="translate(282.7,429.2) scale(1,1.08)" class="lk">2</text>
<rect x="290.6" y="421.8" width="9.7" height="9.7" fill="#fdae61"/>
<text transform="translate(305.1,429.2) scale(1,1.08)" class="lk">3</text>
<rect x="313.2" y="421.8" width="9.7" height="9.7" fill="#f46d43"/>
<text transform="translate(327.7,429.2) scale(1,1.08)" class="lk">4</text>
<rect x="336.1" y="421.8" width="9.7" height="9.7" fill="#d7191c"/>
<text transform="translate(350.6,429.2) scale(1,1.08)" class="lk">5</text>
</svg>
</body></html>
